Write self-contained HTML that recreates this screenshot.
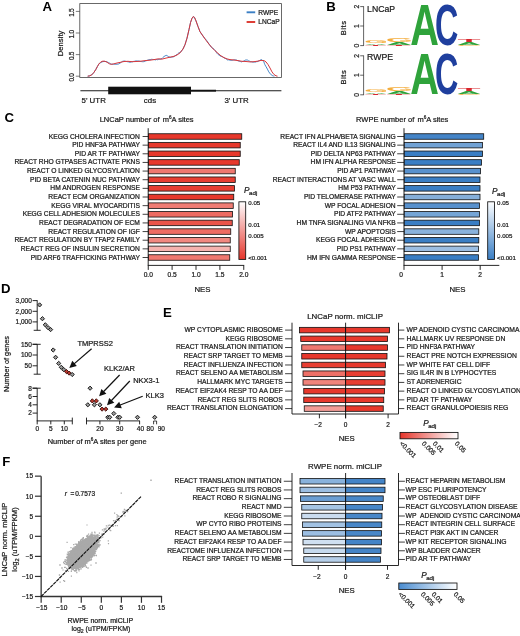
<!DOCTYPE html>
<html><head><meta charset="utf-8"><title>Figure</title>
<style>html,body{margin:0;padding:0;background:#fff}svg{display:block}svg text{font-family:"Liberation Sans",sans-serif;stroke:#1a1a1a;stroke-width:0.22px}svg text.ng{stroke:none}</style></head>
<body><svg width="520" height="636" viewBox="0 0 520 636">
<rect width="520" height="636" fill="#fff"/>
<defs>
<linearGradient id="gr" x1="0" y1="0" x2="0" y2="1"><stop offset="0" stop-color="#fff"/><stop offset="0.08" stop-color="#fdeeee"/><stop offset="1" stop-color="#e5352b"/></linearGradient>
<linearGradient id="gb" x1="0" y1="0" x2="0" y2="1"><stop offset="0" stop-color="#fff"/><stop offset="0.08" stop-color="#eef5fc"/><stop offset="1" stop-color="#3a7ec4"/></linearGradient>
<linearGradient id="grh" x1="1" y1="0" x2="0" y2="0"><stop offset="0" stop-color="#fff"/><stop offset="0.1" stop-color="#fdeeee"/><stop offset="1" stop-color="#e5352b"/></linearGradient>
<linearGradient id="gbh" x1="1" y1="0" x2="0" y2="0"><stop offset="0" stop-color="#fff"/><stop offset="0.1" stop-color="#eef5fc"/><stop offset="1" stop-color="#4a8cd0"/></linearGradient>
</defs>
<text x="42.5" y="11.2" font-size="13.2" font-weight="bold" fill="#000" class="ng">A</text>
<text x="326.2" y="11.0" font-size="13.2" font-weight="bold" fill="#000" class="ng">B</text>
<text x="4.5" y="122.3" font-size="13.2" font-weight="bold" fill="#000" class="ng">C</text>
<text x="0.9" y="293.0" font-size="13.2" font-weight="bold" fill="#000" class="ng">D</text>
<text x="163.1" y="316.6" font-size="13.2" font-weight="bold" fill="#000" class="ng">E</text>
<text x="2.2" y="466.3" font-size="13.2" font-weight="bold" fill="#000" class="ng">F</text>
<rect x="79.8" y="3.6" width="201.59999999999997" height="73.9" fill="none" stroke="#444" stroke-width="0.8"/>
<line x1="75.8" y1="76.2" x2="79.8" y2="76.2" stroke="#444" stroke-width="0.7"/>
<text x="74.1" y="77.5" font-size="6.5" text-anchor="middle" transform="rotate(-90 74.1 77.5)" fill="#1a1a1a" letter-spacing="-0.3">0.0</text>
<line x1="75.8" y1="54.6" x2="79.8" y2="54.6" stroke="#444" stroke-width="0.7"/>
<text x="74.1" y="55.9" font-size="6.5" text-anchor="middle" transform="rotate(-90 74.1 55.9)" fill="#1a1a1a" letter-spacing="-0.3">0.5</text>
<line x1="75.8" y1="33.0" x2="79.8" y2="33.0" stroke="#444" stroke-width="0.7"/>
<text x="74.1" y="34.3" font-size="6.5" text-anchor="middle" transform="rotate(-90 74.1 34.3)" fill="#1a1a1a" letter-spacing="-0.3">1.0</text>
<line x1="75.8" y1="11.399999999999991" x2="79.8" y2="11.399999999999991" stroke="#444" stroke-width="0.7"/>
<text x="74.1" y="12.699999999999992" font-size="6.5" text-anchor="middle" transform="rotate(-90 74.1 12.699999999999992)" fill="#1a1a1a" letter-spacing="-0.3">1.5</text>
<text x="63.4" y="43.4" font-size="7.65" text-anchor="middle" transform="rotate(-90 63.4 43.4)" fill="#1a1a1a">Density</text>
<polyline points="87.7,76.2 88.7,76.0 89.7,75.8 90.7,75.3 91.7,74.9 92.7,73.8 93.7,72.7 94.7,71.2 95.7,69.7 96.5,68.2 97.3,66.7 98.1,65.4 98.8,64.1 99.6,63.2 100.4,62.8 101.2,62.5 102.0,61.8 103.0,61.7 104.0,61.4 105.0,61.4 106.0,61.6 106.9,61.7 107.9,62.3 108.7,62.9 109.6,63.1 110.4,63.7 111.3,64.1 112.1,64.2 112.8,64.3 113.6,64.2 114.4,64.3 115.3,64.4 116.1,64.2 117.0,64.3 117.7,64.2 118.5,64.0 119.2,63.7 120.0,63.2 120.8,62.6 121.6,62.1 122.4,61.3 123.2,61.2 124.0,61.0 124.8,61.1 125.6,61.3 126.4,61.5 127.2,61.6 128.0,61.9 128.8,61.9 129.6,62.3 130.4,62.3 131.2,61.9 132.0,61.9 132.8,61.7 133.6,61.4 134.4,61.3 135.2,61.0 136.0,61.0 136.8,60.9 137.6,61.0 138.4,61.0 139.2,61.1 140.0,61.3 140.8,61.5 141.7,61.6 142.5,61.7 143.3,61.7 144.2,61.6 145.0,61.2 145.8,60.8 146.7,60.6 147.5,60.2 148.3,59.9 149.2,59.7 150.0,59.5 150.8,59.6 151.6,59.3 152.4,59.4 153.2,59.5 154.0,59.6 154.8,59.7 155.6,59.9 156.4,59.5 157.2,59.8 158.0,59.5 158.8,59.3 159.6,59.2 160.4,59.1 161.2,58.8 162.0,58.5 162.8,57.6 163.6,57.1 164.4,56.1 165.2,55.8 166.0,55.3 166.8,55.5 167.6,56.0 168.4,56.5 169.2,56.9 170.0,57.1 170.8,57.4 171.6,57.1 172.4,57.0 173.2,56.9 174.0,56.6 174.8,56.0 175.5,55.6 176.2,54.9 177.0,54.6 177.8,53.7 178.5,53.1 179.2,52.9 180.0,52.4 180.8,51.9 181.5,50.9 182.2,50.0 183.0,49.0 184.0,46.8 185.0,44.7 186.0,41.4 187.0,38.2 188.0,33.9 189.0,29.5 189.8,26.1 190.5,22.6 191.2,20.5 192.0,18.3 193.2,16.6 193.8,17.0 194.5,17.4 195.2,19.2 196.0,20.9 197.0,23.7 198.0,26.5 199.0,29.1 200.0,31.7 200.8,32.8 201.5,33.9 202.2,34.9 203.0,36.0 203.8,37.1 204.5,38.2 205.2,38.7 206.0,39.7 206.8,40.7 207.5,41.7 208.2,42.8 209.0,44.0 209.8,45.1 210.5,46.1 211.2,47.1 212.0,47.6 212.8,48.1 213.5,48.9 214.2,49.4 215.0,50.4 215.8,51.4 216.5,52.6 217.2,53.5 218.0,54.4 218.8,54.9 219.5,55.4 220.2,56.1 221.0,56.2 221.8,56.5 222.5,56.8 223.2,57.3 224.0,57.8 224.8,58.3 225.5,58.5 226.2,58.9 227.0,59.6 227.8,60.0 228.5,59.8 229.2,60.0 230.0,60.2 230.8,60.3 231.6,60.4 232.4,60.3 233.2,60.1 234.0,59.8 234.8,59.9 235.6,59.9 236.4,60.0 237.2,60.5 238.0,60.7 238.8,61.1 239.6,61.3 240.4,61.5 241.2,61.9 242.0,61.6 242.8,61.4 243.6,61.1 244.4,60.6 245.2,60.2 246.0,59.9 246.8,60.0 247.6,60.1 248.4,60.7 249.2,60.9 250.0,61.6 250.8,61.7 251.6,61.8 252.4,62.1 253.2,62.1 254.0,62.1 254.8,62.0 255.6,62.1 256.4,61.7 257.2,61.7 258.0,61.3 258.8,60.9 259.5,60.6 260.2,60.1 261.0,59.8 261.8,59.7 262.2,60.5 262.6,60.6 262.9,60.6 263.4,61.3 263.9,61.9 264.3,63.2 264.8,64.5 265.8,66.3 266.8,68.0 267.8,69.9 268.8,71.9 269.8,73.2 270.8,74.5 271.8,75.1 272.8,75.8 273.6,76.0 274.3,76.2" fill="none" stroke="#3b7fc4" stroke-width="0.95" stroke-linejoin="round"/>
<polyline points="87.7,76.2 89.7,75.8 91.7,74.9 93.7,72.7 95.7,69.7 97.3,66.7 98.8,64.1 100.4,62.4 102.0,61.3 104.0,61.1 106.0,61.7 107.9,62.8 109.6,63.9 111.3,64.3 113.6,63.9 117.0,63.0 120.0,62.4 124.0,61.5 128.0,61.3 132.0,61.7 136.0,61.5 140.0,61.3 145.0,60.6 150.0,60.2 154.0,59.6 158.0,58.9 162.0,59.1 166.0,58.1 170.0,57.2 174.0,56.3 177.0,55.0 180.0,52.9 183.0,49.0 185.0,44.7 187.0,38.2 189.0,29.5 190.5,22.6 192.0,18.3 193.2,16.6 194.5,17.4 196.0,20.9 198.0,26.5 200.0,31.7 203.0,36.0 206.0,40.3 209.0,44.2 212.0,47.7 215.0,50.7 218.0,53.3 221.0,55.9 224.0,57.6 227.0,58.9 230.0,59.6 234.0,60.0 238.0,60.6 242.0,61.3 246.0,61.5 250.0,61.9 254.0,61.7 258.0,61.1 261.0,60.4 264.0,60.6 266.0,61.9 268.0,64.5 270.0,68.0 272.0,71.9 274.0,74.5 276.0,75.8 277.5,76.2" fill="none" stroke="#d8363a" stroke-width="1.0" stroke-linejoin="round"/>
<line x1="246.6" y1="12.3" x2="255.2" y2="12.3" stroke="#3b7fc4" stroke-width="1.9"/>
<text x="258.3" y="14.7" font-size="6.65" fill="#1a1a1a">RWPE</text>
<line x1="246.6" y1="22" x2="255.2" y2="22" stroke="#dc352d" stroke-width="1.9"/>
<text x="258.3" y="24.4" font-size="6.65" fill="#1a1a1a">LNCaP</text>
<line x1="80.4" y1="90.7" x2="281.4" y2="90.7" stroke="#1a1a1a" stroke-width="1.15"/>
<line x1="191" y1="90.7" x2="216" y2="90.7" stroke="#111" stroke-width="1.9"/>
<rect x="108.20" y="86.70" width="82.80" height="7.60" fill="#111"/>
<text x="93.7" y="102.5" font-size="7.9" text-anchor="middle" fill="#1a1a1a">5' UTR</text>
<text x="150" y="102.6" font-size="7.9" text-anchor="middle" fill="#1a1a1a">cds</text>
<text x="236.6" y="102.6" font-size="7.9" text-anchor="middle" fill="#1a1a1a">3' UTR</text>
<g id="B">
<line x1="363.6" y1="6.25" x2="363.6" y2="45.95" stroke="#222" stroke-width="0.7"/>
<line x1="360.20000000000005" y1="6.6" x2="363.6" y2="6.6" stroke="#222" stroke-width="0.7"/>
<text x="358.6" y="6.6" font-size="6.8" text-anchor="middle" transform="rotate(-90 358.6 6.6)" fill="#1a1a1a">2</text>
<line x1="360.20000000000005" y1="26" x2="363.6" y2="26" stroke="#222" stroke-width="0.7"/>
<text x="358.6" y="26" font-size="6.8" text-anchor="middle" transform="rotate(-90 358.6 26)" fill="#1a1a1a">1</text>
<line x1="360.20000000000005" y1="45.6" x2="363.6" y2="45.6" stroke="#222" stroke-width="0.7"/>
<text x="358.6" y="45.6" font-size="6.8" text-anchor="middle" transform="rotate(-90 358.6 45.6)" fill="#1a1a1a">0</text>
<text x="346.2" y="27.9" font-size="7.5" text-anchor="middle" transform="rotate(-90 346.2 27.9)" fill="#1a1a1a" letter-spacing="0.55">Bits</text>
<text x="367.1" y="11.8" font-size="8.7" fill="#1a1a1a">LNCaP</text>
<text transform="translate(410.31 45.26) scale(0.3970 0.5793)" x="0" y="0" font-size="100" font-weight="bold" fill="#2fa33b" class="ng">A</text>
<text transform="translate(434.98 45.08) scale(0.3231 0.5743)" x="0" y="0" font-size="100" font-weight="bold" fill="#1f3f9e" class="ng">C</text>
<text transform="translate(364.25 42.87) scale(0.3042 0.0311)" x="0" y="0" font-size="100" font-weight="bold" fill="#f4ad3d" class="ng">G</text>
<text transform="translate(364.74 44.60) scale(0.3060 0.0247)" x="0" y="0" font-size="100" font-weight="bold" fill="#2fa33b" class="ng">A</text>
<text transform="translate(365.12 45.60) scale(0.3486 0.0146)" x="0" y="0" font-size="100" font-weight="bold" fill="#d8262c" class="ng">T</text>
<text transform="translate(385.87 41.95) scale(0.3487 0.0537)" x="0" y="0" font-size="100" font-weight="bold" fill="#f4ad3d" class="ng">G</text>
<text transform="translate(386.42 44.80) scale(0.3507 0.0408)" x="0" y="0" font-size="100" font-weight="bold" fill="#2fa33b" class="ng">A</text>
<text transform="translate(386.86 45.60) scale(0.3997 0.0116)" x="0" y="0" font-size="100" font-weight="bold" fill="#d8262c" class="ng">T</text>
<text transform="translate(457.38 42.10) scale(0.3776 0.0422)" x="0" y="0" font-size="100" font-weight="bold" fill="#d8262c" class="ng">T</text>
<text transform="translate(456.97 44.70) scale(0.3313 0.0378)" x="0" y="0" font-size="100" font-weight="bold" fill="#2fa33b" class="ng">A</text>
<text transform="translate(456.45 45.59) scale(0.3294 0.0127)" x="0" y="0" font-size="100" font-weight="bold" fill="#f4ad3d" class="ng">G</text>
<line x1="363.6" y1="55.449999999999996" x2="363.6" y2="95.14999999999999" stroke="#222" stroke-width="0.7"/>
<line x1="360.20000000000005" y1="55.8" x2="363.6" y2="55.8" stroke="#222" stroke-width="0.7"/>
<text x="358.6" y="55.8" font-size="6.8" text-anchor="middle" transform="rotate(-90 358.6 55.8)" fill="#1a1a1a">2</text>
<line x1="360.20000000000005" y1="75.2" x2="363.6" y2="75.2" stroke="#222" stroke-width="0.7"/>
<text x="358.6" y="75.2" font-size="6.8" text-anchor="middle" transform="rotate(-90 358.6 75.2)" fill="#1a1a1a">1</text>
<line x1="360.20000000000005" y1="94.8" x2="363.6" y2="94.8" stroke="#222" stroke-width="0.7"/>
<text x="358.6" y="94.8" font-size="6.8" text-anchor="middle" transform="rotate(-90 358.6 94.8)" fill="#1a1a1a">0</text>
<text x="346.2" y="77.10000000000001" font-size="7.5" text-anchor="middle" transform="rotate(-90 346.2 77.10000000000001)" fill="#1a1a1a" letter-spacing="0.55">Bits</text>
<text x="367.1" y="60.1" font-size="8.7" fill="#1a1a1a">RWPE</text>
<text transform="translate(410.31 94.46) scale(0.3970 0.5793)" x="0" y="0" font-size="100" font-weight="bold" fill="#2fa33b" class="ng">A</text>
<text transform="translate(434.98 94.28) scale(0.3231 0.5743)" x="0" y="0" font-size="100" font-weight="bold" fill="#1f3f9e" class="ng">C</text>
<text transform="translate(364.25 92.07) scale(0.3042 0.0311)" x="0" y="0" font-size="100" font-weight="bold" fill="#f4ad3d" class="ng">G</text>
<text transform="translate(364.74 93.80) scale(0.3060 0.0247)" x="0" y="0" font-size="100" font-weight="bold" fill="#2fa33b" class="ng">A</text>
<text transform="translate(365.12 94.80) scale(0.3486 0.0146)" x="0" y="0" font-size="100" font-weight="bold" fill="#d8262c" class="ng">T</text>
<text transform="translate(385.87 91.15) scale(0.3487 0.0537)" x="0" y="0" font-size="100" font-weight="bold" fill="#f4ad3d" class="ng">G</text>
<text transform="translate(386.42 94.00) scale(0.3507 0.0408)" x="0" y="0" font-size="100" font-weight="bold" fill="#2fa33b" class="ng">A</text>
<text transform="translate(386.86 94.80) scale(0.3997 0.0116)" x="0" y="0" font-size="100" font-weight="bold" fill="#d8262c" class="ng">T</text>
<text transform="translate(457.38 91.30) scale(0.3776 0.0422)" x="0" y="0" font-size="100" font-weight="bold" fill="#d8262c" class="ng">T</text>
<text transform="translate(456.97 93.90) scale(0.3313 0.0378)" x="0" y="0" font-size="100" font-weight="bold" fill="#2fa33b" class="ng">A</text>
<text transform="translate(456.45 94.79) scale(0.3294 0.0127)" x="0" y="0" font-size="100" font-weight="bold" fill="#f4ad3d" class="ng">G</text>
</g>
<text x="146.6" y="122.0" font-size="7.5" text-anchor="middle" fill="#1a1a1a">LNCaP number of<tspan dx="3.1">m</tspan><tspan font-size="4.65" dy="-2.6">6</tspan><tspan dy="2.6">A sites</tspan></text>
<line x1="148.2" y1="128.2" x2="148.2" y2="265.4" stroke="#111" stroke-width="0.9"/>
<line x1="142.6" y1="136.5" x2="148.2" y2="136.5" stroke="#111" stroke-width="0.8"/>
<text x="139.89999999999998" y="138.55" font-size="6.7" text-anchor="end" fill="#1a1a1a">KEGG CHOLERA INFECTION</text>
<rect x="148.50" y="133.75" width="93.25" height="5.50" fill="#e7382c" stroke="#111" stroke-width="0.8"/>
<line x1="142.6" y1="145.143" x2="148.2" y2="145.143" stroke="#111" stroke-width="0.8"/>
<text x="139.89999999999998" y="147.193" font-size="6.7" text-anchor="end" fill="#1a1a1a">PID HNF3A PATHWAY</text>
<rect x="148.50" y="142.39" width="91.75" height="5.50" fill="#e7382c" stroke="#111" stroke-width="0.8"/>
<line x1="142.6" y1="153.786" x2="148.2" y2="153.786" stroke="#111" stroke-width="0.8"/>
<text x="139.89999999999998" y="155.836" font-size="6.7" text-anchor="end" fill="#1a1a1a">PID AR TF PATHWAY</text>
<rect x="148.50" y="151.04" width="91.75" height="5.50" fill="#e7382c" stroke="#111" stroke-width="0.8"/>
<line x1="142.6" y1="162.429" x2="148.2" y2="162.429" stroke="#111" stroke-width="0.8"/>
<text x="139.89999999999998" y="164.479" font-size="6.7" text-anchor="end" fill="#1a1a1a">REACT RHO GTPASES ACTIVATE PKNS</text>
<rect x="148.50" y="159.68" width="90.75" height="5.50" fill="#e7382c" stroke="#111" stroke-width="0.8"/>
<line x1="142.6" y1="171.072" x2="148.2" y2="171.072" stroke="#111" stroke-width="0.8"/>
<text x="139.89999999999998" y="173.122" font-size="6.7" text-anchor="end" fill="#1a1a1a">REACT O LINKED GLYCOSYLATION</text>
<rect x="148.50" y="168.32" width="86.75" height="5.50" fill="#ef7870" stroke="#111" stroke-width="0.8"/>
<line x1="142.6" y1="179.715" x2="148.2" y2="179.715" stroke="#111" stroke-width="0.8"/>
<text x="139.89999999999998" y="181.76500000000001" font-size="6.7" text-anchor="end" fill="#1a1a1a">PID BETA CATENIN NUC PATHWAY</text>
<rect x="148.50" y="176.97" width="86.75" height="5.50" fill="#e83e32" stroke="#111" stroke-width="0.8"/>
<line x1="142.6" y1="188.358" x2="148.2" y2="188.358" stroke="#111" stroke-width="0.8"/>
<text x="139.89999999999998" y="190.40800000000002" font-size="6.7" text-anchor="end" fill="#1a1a1a">HM ANDROGEN RESPONSE</text>
<rect x="148.50" y="185.61" width="86.00" height="5.50" fill="#e83e32" stroke="#111" stroke-width="0.8"/>
<line x1="142.6" y1="197.001" x2="148.2" y2="197.001" stroke="#111" stroke-width="0.8"/>
<text x="139.89999999999998" y="199.05100000000002" font-size="6.7" text-anchor="end" fill="#1a1a1a">REACT ECM ORGANIZATION</text>
<rect x="148.50" y="194.25" width="85.25" height="5.50" fill="#e7382c" stroke="#111" stroke-width="0.8"/>
<line x1="142.6" y1="205.644" x2="148.2" y2="205.644" stroke="#111" stroke-width="0.8"/>
<text x="139.89999999999998" y="207.69400000000002" font-size="6.7" text-anchor="end" fill="#1a1a1a">KEGG VIRAL MYOCARDITIS</text>
<rect x="148.50" y="202.89" width="84.75" height="5.50" fill="#ef7c74" stroke="#111" stroke-width="0.8"/>
<line x1="142.6" y1="214.287" x2="148.2" y2="214.287" stroke="#111" stroke-width="0.8"/>
<text x="139.89999999999998" y="216.33700000000002" font-size="6.7" text-anchor="end" fill="#1a1a1a">KEGG CELL ADHESION MOLECULES</text>
<rect x="148.50" y="211.54" width="84.00" height="5.50" fill="#ed6c63" stroke="#111" stroke-width="0.8"/>
<line x1="142.6" y1="222.93" x2="148.2" y2="222.93" stroke="#111" stroke-width="0.8"/>
<text x="139.89999999999998" y="224.98000000000002" font-size="6.7" text-anchor="end" fill="#1a1a1a">REACT DEGRADATION OF ECM</text>
<rect x="148.50" y="220.18" width="83.75" height="5.50" fill="#ea544a" stroke="#111" stroke-width="0.8"/>
<line x1="142.6" y1="231.573" x2="148.2" y2="231.573" stroke="#111" stroke-width="0.8"/>
<text x="139.89999999999998" y="233.62300000000002" font-size="6.7" text-anchor="end" fill="#1a1a1a">REACT REGULATION OF IGF</text>
<rect x="148.50" y="228.82" width="82.25" height="5.50" fill="#ed6c63" stroke="#111" stroke-width="0.8"/>
<line x1="142.6" y1="240.216" x2="148.2" y2="240.216" stroke="#111" stroke-width="0.8"/>
<text x="139.89999999999998" y="242.26600000000002" font-size="6.7" text-anchor="end" fill="#1a1a1a">REACT REGULATION BY TFAP2 FAMILY</text>
<rect x="148.50" y="237.47" width="81.75" height="5.50" fill="#f18880" stroke="#111" stroke-width="0.8"/>
<line x1="142.6" y1="248.859" x2="148.2" y2="248.859" stroke="#111" stroke-width="0.8"/>
<text x="139.89999999999998" y="250.90900000000002" font-size="6.7" text-anchor="end" fill="#1a1a1a">REACT REG OF INSULIN SECRETION</text>
<rect x="148.50" y="246.11" width="81.75" height="5.50" fill="#f6b3af" stroke="#111" stroke-width="0.8"/>
<line x1="142.6" y1="257.502" x2="148.2" y2="257.502" stroke="#111" stroke-width="0.8"/>
<text x="139.89999999999998" y="259.552" font-size="6.7" text-anchor="end" fill="#1a1a1a">PID ARF6 TRAFFICKING PATHWAY</text>
<rect x="148.50" y="254.75" width="81.25" height="5.50" fill="#ef7870" stroke="#111" stroke-width="0.8"/>
<line x1="147.75" y1="265.4" x2="244.2" y2="265.4" stroke="#111" stroke-width="0.9"/>
<line x1="148.25" y1="265.4" x2="148.25" y2="269.9" stroke="#111" stroke-width="0.9"/>
<text x="148.25" y="277.4" font-size="6.65" text-anchor="middle" fill="#1a1a1a">0.0</text>
<line x1="172.1" y1="265.4" x2="172.1" y2="269.9" stroke="#111" stroke-width="0.9"/>
<text x="172.1" y="277.4" font-size="6.65" text-anchor="middle" fill="#1a1a1a">0.5</text>
<line x1="196" y1="265.4" x2="196" y2="269.9" stroke="#111" stroke-width="0.9"/>
<text x="196" y="277.4" font-size="6.65" text-anchor="middle" fill="#1a1a1a">1.0</text>
<line x1="219.9" y1="265.4" x2="219.9" y2="269.9" stroke="#111" stroke-width="0.9"/>
<text x="219.9" y="277.4" font-size="6.65" text-anchor="middle" fill="#1a1a1a">1.5</text>
<line x1="243.75" y1="265.4" x2="243.75" y2="269.9" stroke="#111" stroke-width="0.9"/>
<text x="243.75" y="277.4" font-size="6.65" text-anchor="middle" fill="#1a1a1a">2.0</text>
<text x="202.5" y="291.5" font-size="7.8" text-anchor="middle" fill="#1a1a1a">NES</text>
<rect x="238.9" y="201.8" width="6.8" height="57.6" fill="url(#gr)" stroke="#111" stroke-width="0.85"/>
<text x="248.3" y="205.0" font-size="6.1" fill="#1a1a1a">0.05</text>
<text x="248.3" y="227.39999999999998" font-size="6.1" fill="#1a1a1a">0.01</text>
<text x="248.3" y="238.2" font-size="6.1" fill="#1a1a1a">0.005</text>
<text x="248.3" y="260.2" font-size="6.1" fill="#1a1a1a">&lt;0.001</text>
<text x="244.1" y="193.2" font-size="8.2" fill="#1a1a1a"><tspan font-style="italic">P</tspan><tspan font-size="6.2" dy="1.9" dx="-0.5">adj</tspan></text>
<text x="402.2" y="122.0" font-size="7.5" text-anchor="middle" fill="#1a1a1a">RWPE number of<tspan dx="3.1">m</tspan><tspan font-size="4.65" dy="-2.6">6</tspan><tspan dy="2.6">A sites</tspan></text>
<line x1="404" y1="128.2" x2="404" y2="265.4" stroke="#111" stroke-width="0.9"/>
<line x1="397.2" y1="136.5" x2="404" y2="136.5" stroke="#111" stroke-width="0.8"/>
<text x="395.7" y="138.55" font-size="6.7" text-anchor="end" fill="#1a1a1a">REACT IFN ALPHA/BETA SIGNALING</text>
<rect x="404.30" y="133.75" width="79.40" height="5.50" fill="#4484c7" stroke="#111" stroke-width="0.8"/>
<line x1="397.2" y1="145.143" x2="404" y2="145.143" stroke="#111" stroke-width="0.8"/>
<text x="395.7" y="147.193" font-size="6.7" text-anchor="end" fill="#1a1a1a">REACT IL4 AND IL13 SIGNALING</text>
<rect x="404.30" y="142.39" width="78.20" height="5.50" fill="#71a2d5" stroke="#111" stroke-width="0.8"/>
<line x1="397.2" y1="153.786" x2="404" y2="153.786" stroke="#111" stroke-width="0.8"/>
<text x="395.7" y="155.836" font-size="6.7" text-anchor="end" fill="#1a1a1a">PID DELTA NP63 PATHWAY</text>
<rect x="404.30" y="151.04" width="78.20" height="5.50" fill="#3a7ec4" stroke="#111" stroke-width="0.8"/>
<line x1="397.2" y1="162.429" x2="404" y2="162.429" stroke="#111" stroke-width="0.8"/>
<text x="395.7" y="164.479" font-size="6.7" text-anchor="end" fill="#1a1a1a">HM IFN ALPHA RESPONSE</text>
<rect x="404.30" y="159.68" width="77.20" height="5.50" fill="#3a7ec4" stroke="#111" stroke-width="0.8"/>
<line x1="397.2" y1="171.072" x2="404" y2="171.072" stroke="#111" stroke-width="0.8"/>
<text x="395.7" y="173.122" font-size="6.7" text-anchor="end" fill="#1a1a1a">PID AP1 PATHWAY</text>
<rect x="404.30" y="168.32" width="76.30" height="5.50" fill="#5891cd" stroke="#111" stroke-width="0.8"/>
<line x1="397.2" y1="179.715" x2="404" y2="179.715" stroke="#111" stroke-width="0.8"/>
<text x="395.7" y="181.76500000000001" font-size="6.7" text-anchor="end" fill="#1a1a1a">REACT INTERACTIONS AT VASC WALL</text>
<rect x="404.30" y="176.97" width="75.70" height="5.50" fill="#3a7ec4" stroke="#111" stroke-width="0.8"/>
<line x1="397.2" y1="188.358" x2="404" y2="188.358" stroke="#111" stroke-width="0.8"/>
<text x="395.7" y="190.40800000000002" font-size="6.7" text-anchor="end" fill="#1a1a1a">HM P53 PATHWAY</text>
<rect x="404.30" y="185.61" width="75.70" height="5.50" fill="#3a7ec4" stroke="#111" stroke-width="0.8"/>
<line x1="397.2" y1="197.001" x2="404" y2="197.001" stroke="#111" stroke-width="0.8"/>
<text x="395.7" y="199.05100000000002" font-size="6.7" text-anchor="end" fill="#1a1a1a">PID TELOMERASE PATHWAY</text>
<rect x="404.30" y="194.25" width="75.70" height="5.50" fill="#85afda" stroke="#111" stroke-width="0.8"/>
<line x1="397.2" y1="205.644" x2="404" y2="205.644" stroke="#111" stroke-width="0.8"/>
<text x="395.7" y="207.69400000000002" font-size="6.7" text-anchor="end" fill="#1a1a1a">WP FOCAL ADHESION</text>
<rect x="404.30" y="202.89" width="75.10" height="5.50" fill="#5891cd" stroke="#111" stroke-width="0.8"/>
<line x1="397.2" y1="214.287" x2="404" y2="214.287" stroke="#111" stroke-width="0.8"/>
<text x="395.7" y="216.33700000000002" font-size="6.7" text-anchor="end" fill="#1a1a1a">PID ATF2 PATHWAY</text>
<rect x="404.30" y="211.54" width="75.10" height="5.50" fill="#75a5d6" stroke="#111" stroke-width="0.8"/>
<line x1="397.2" y1="222.93" x2="404" y2="222.93" stroke="#111" stroke-width="0.8"/>
<text x="395.7" y="224.98000000000002" font-size="6.7" text-anchor="end" fill="#1a1a1a">HM TNFA SIGNALING VIA NFKB</text>
<rect x="404.30" y="220.18" width="75.10" height="5.50" fill="#3a7ec4" stroke="#111" stroke-width="0.8"/>
<line x1="397.2" y1="231.573" x2="404" y2="231.573" stroke="#111" stroke-width="0.8"/>
<text x="395.7" y="233.62300000000002" font-size="6.7" text-anchor="end" fill="#1a1a1a">WP APOPTOSIS</text>
<rect x="404.30" y="228.82" width="74.50" height="5.50" fill="#89b2dc" stroke="#111" stroke-width="0.8"/>
<line x1="397.2" y1="240.216" x2="404" y2="240.216" stroke="#111" stroke-width="0.8"/>
<text x="395.7" y="242.26600000000002" font-size="6.7" text-anchor="end" fill="#1a1a1a">KEGG FOCAL ADHESION</text>
<rect x="404.30" y="237.47" width="74.50" height="5.50" fill="#3a7ec4" stroke="#111" stroke-width="0.8"/>
<line x1="397.2" y1="248.859" x2="404" y2="248.859" stroke="#111" stroke-width="0.8"/>
<text x="395.7" y="250.90900000000002" font-size="6.7" text-anchor="end" fill="#1a1a1a">PID PS1 PATHWAY</text>
<rect x="404.30" y="246.11" width="74.20" height="5.50" fill="#9cbee2" stroke="#111" stroke-width="0.8"/>
<line x1="397.2" y1="257.502" x2="404" y2="257.502" stroke="#111" stroke-width="0.8"/>
<text x="395.7" y="259.552" font-size="6.7" text-anchor="end" fill="#1a1a1a">HM IFN GAMMA RESPONSE</text>
<rect x="404.30" y="254.75" width="74.20" height="5.50" fill="#3a7ec4" stroke="#111" stroke-width="0.8"/>
<line x1="403.55" y1="265.4" x2="499.3" y2="265.4" stroke="#111" stroke-width="0.9"/>
<line x1="404" y1="265.4" x2="404" y2="269.9" stroke="#111" stroke-width="0.9"/>
<text x="401" y="277.4" font-size="6.65" text-anchor="middle" fill="#1a1a1a">0</text>
<line x1="442.1" y1="265.4" x2="442.1" y2="269.9" stroke="#111" stroke-width="0.9"/>
<text x="442.1" y="277.4" font-size="6.65" text-anchor="middle" fill="#1a1a1a">1</text>
<line x1="480.2" y1="265.4" x2="480.2" y2="269.9" stroke="#111" stroke-width="0.9"/>
<text x="480.2" y="277.4" font-size="6.65" text-anchor="middle" fill="#1a1a1a">2</text>
<text x="457.5" y="291.5" font-size="7.8" text-anchor="middle" fill="#1a1a1a">NES</text>
<rect x="487.7" y="201.8" width="6.8" height="57.6" fill="url(#gb)" stroke="#111" stroke-width="0.85"/>
<text x="497.09999999999997" y="205.0" font-size="6.1" fill="#1a1a1a">0.05</text>
<text x="497.09999999999997" y="227.39999999999998" font-size="6.1" fill="#1a1a1a">0.01</text>
<text x="497.09999999999997" y="238.2" font-size="6.1" fill="#1a1a1a">0.005</text>
<text x="497.09999999999997" y="260.2" font-size="6.1" fill="#1a1a1a">&lt;0.001</text>
<text x="492.0" y="194.1" font-size="8.2" fill="#1a1a1a"><tspan font-style="italic">P</tspan><tspan font-size="6.2" dy="1.9" dx="-0.5">adj</tspan></text>
<line x1="37.2" y1="300.2" x2="37.2" y2="330.3" stroke="#111" stroke-width="0.9"/>
<line x1="32.6" y1="300.6" x2="37.2" y2="300.6" stroke="#111" stroke-width="0.9"/>
<text x="31.800000000000004" y="302.90000000000003" font-size="6.5" text-anchor="end" fill="#1a1a1a">3,000</text>
<line x1="32.6" y1="311.3" x2="37.2" y2="311.3" stroke="#111" stroke-width="0.9"/>
<text x="31.800000000000004" y="313.6" font-size="6.5" text-anchor="end" fill="#1a1a1a">2,000</text>
<line x1="32.6" y1="321.9" x2="37.2" y2="321.9" stroke="#111" stroke-width="0.9"/>
<text x="31.800000000000004" y="324.2" font-size="6.5" text-anchor="end" fill="#1a1a1a">1,000</text>
<line x1="33.7" y1="330.3" x2="40.7" y2="330.3" stroke="#111" stroke-width="0.9"/>
<line x1="37.2" y1="344.3" x2="37.2" y2="374.2" stroke="#111" stroke-width="0.9"/>
<line x1="32.6" y1="344.3" x2="37.2" y2="344.3" stroke="#111" stroke-width="0.9"/>
<text x="31.800000000000004" y="346.6" font-size="6.5" text-anchor="end" fill="#1a1a1a">150</text>
<line x1="32.6" y1="355" x2="37.2" y2="355" stroke="#111" stroke-width="0.9"/>
<text x="31.800000000000004" y="357.3" font-size="6.5" text-anchor="end" fill="#1a1a1a">100</text>
<line x1="32.6" y1="365.8" x2="37.2" y2="365.8" stroke="#111" stroke-width="0.9"/>
<text x="31.800000000000004" y="368.1" font-size="6.5" text-anchor="end" fill="#1a1a1a">50</text>
<line x1="32.6" y1="344.3" x2="40.7" y2="344.3" stroke="#111" stroke-width="0.9"/>
<line x1="33.7" y1="374.2" x2="40.7" y2="374.2" stroke="#111" stroke-width="0.9"/>
<line x1="37.2" y1="388.2" x2="37.2" y2="421" stroke="#111" stroke-width="0.9"/>
<line x1="32.6" y1="388.2" x2="37.2" y2="388.2" stroke="#111" stroke-width="0.9"/>
<text x="31.800000000000004" y="390.5" font-size="6.5" text-anchor="end" fill="#1a1a1a">8</text>
<line x1="32.6" y1="396.5" x2="37.2" y2="396.5" stroke="#111" stroke-width="0.9"/>
<text x="31.800000000000004" y="398.8" font-size="6.5" text-anchor="end" fill="#1a1a1a">6</text>
<line x1="32.6" y1="404.8" x2="37.2" y2="404.8" stroke="#111" stroke-width="0.9"/>
<text x="31.800000000000004" y="407.1" font-size="6.5" text-anchor="end" fill="#1a1a1a">4</text>
<line x1="32.6" y1="413.1" x2="37.2" y2="413.1" stroke="#111" stroke-width="0.9"/>
<text x="31.800000000000004" y="415.40000000000003" font-size="6.5" text-anchor="end" fill="#1a1a1a">2</text>
<line x1="32.6" y1="388.2" x2="40.7" y2="388.2" stroke="#111" stroke-width="0.9"/>
<line x1="36.75" y1="420.9" x2="72.3" y2="420.9" stroke="#111" stroke-width="0.9"/>
<line x1="37.2" y1="420.9" x2="37.2" y2="424.4" stroke="#111" stroke-width="0.9"/>
<text x="37.2" y="431.2" font-size="6.5" text-anchor="middle" fill="#1a1a1a">0</text>
<line x1="50.8" y1="420.9" x2="50.8" y2="424.4" stroke="#111" stroke-width="0.9"/>
<text x="50.8" y="431.2" font-size="6.5" text-anchor="middle" fill="#1a1a1a">5</text>
<line x1="64.3" y1="420.9" x2="64.3" y2="424.4" stroke="#111" stroke-width="0.9"/>
<text x="64.3" y="431.2" font-size="6.5" text-anchor="middle" fill="#1a1a1a">10</text>
<line x1="72.3" y1="417.6" x2="72.3" y2="424.4" stroke="#111" stroke-width="0.9"/>
<line x1="86.5" y1="420.9" x2="139.9" y2="420.9" stroke="#111" stroke-width="0.9"/>
<line x1="86.5" y1="417.6" x2="86.5" y2="424.4" stroke="#111" stroke-width="0.9"/>
<line x1="99.9" y1="420.9" x2="99.9" y2="424.4" stroke="#111" stroke-width="0.9"/>
<line x1="119.7" y1="420.9" x2="119.7" y2="424.4" stroke="#111" stroke-width="0.9"/>
<line x1="139.6" y1="420.9" x2="139.6" y2="424.4" stroke="#111" stroke-width="0.9"/>
<text x="99.9" y="431.2" font-size="6.5" text-anchor="middle" fill="#1a1a1a">20</text>
<text x="119.7" y="431.2" font-size="6.5" text-anchor="middle" fill="#1a1a1a">30</text>
<text x="140.4" y="431.2" font-size="6.5" text-anchor="middle" fill="#1a1a1a">40</text>
<text x="150.2" y="431.2" font-size="6.5" text-anchor="middle" fill="#1a1a1a">80</text>
<text x="161.3" y="431.2" font-size="6.5" text-anchor="middle" fill="#1a1a1a">90</text>
<path d="M153.6 424.3V421H156.6V424.3" fill="none" stroke="#111" stroke-width="0.8"/>
<text x="97.2" y="444" font-size="7.45" text-anchor="middle" fill="#1a1a1a">Number of m<tspan font-size="4.6" dy="-2.6">6</tspan><tspan dy="2.6">A sites per gene</tspan></text>
<text x="8.8" y="364.0" font-size="7.3" text-anchor="middle" transform="rotate(-90 8.8 364.0)" fill="#1a1a1a">Number of genes</text>
<path d="M39.6 302.8L41.7 304.9L39.6 307.0L37.5 304.9Z" fill="#9c9c9c" stroke="#151515" stroke-width="0.98"/>
<path d="M42.4 316.6L44.5 318.7L42.4 320.8L40.3 318.7Z" fill="#9c9c9c" stroke="#151515" stroke-width="0.98"/>
<path d="M45.3 322.7L47.4 324.8L45.3 326.9L43.2 324.8Z" fill="#9c9c9c" stroke="#151515" stroke-width="0.98"/>
<path d="M48.1 325.6L50.2 327.7L48.1 329.8L46.0 327.7Z" fill="#9c9c9c" stroke="#151515" stroke-width="0.98"/>
<path d="M50.6 327.5L52.7 329.6L50.6 331.7L48.5 329.6Z" fill="#9c9c9c" stroke="#151515" stroke-width="0.98"/>
<path d="M53.2 347.9L55.3 350.0L53.2 352.1L51.1 350.0Z" fill="#9c9c9c" stroke="#151515" stroke-width="0.98"/>
<path d="M55.6 355.2L57.7 357.3L55.6 359.4L53.5 357.3Z" fill="#9c9c9c" stroke="#151515" stroke-width="0.98"/>
<path d="M58.7 361.3L60.8 363.4L58.7 365.5L56.6 363.4Z" fill="#9c9c9c" stroke="#151515" stroke-width="0.98"/>
<path d="M61.3 365.2L63.4 367.3L61.3 369.4L59.2 367.3Z" fill="#9c9c9c" stroke="#151515" stroke-width="0.98"/>
<path d="M63.8 367.5L65.9 369.6L63.8 371.7L61.7 369.6Z" fill="#9c9c9c" stroke="#151515" stroke-width="0.98"/>
<path d="M66.5 369.5L68.6 371.6L66.5 373.7L64.4 371.6Z" fill="#b8382e" stroke="#45120e" stroke-width="0.98"/>
<path d="M69.1 371.0L71.2 373.1L69.1 375.2L67.0 373.1Z" fill="#b8382e" stroke="#45120e" stroke-width="0.98"/>
<path d="M72.2 372.4L74.3 374.5L72.2 376.6L70.1 374.5Z" fill="#9c9c9c" stroke="#151515" stroke-width="0.98"/>
<path d="M90.1 386.1L92.2 388.2L90.1 390.3L88.0 388.2Z" fill="#9c9c9c" stroke="#151515" stroke-width="0.98"/>
<path d="M87.8 402.7L89.9 404.8L87.8 406.9L85.7 404.8Z" fill="#9c9c9c" stroke="#151515" stroke-width="0.98"/>
<path d="M92.3 398.8L94.4 400.9L92.3 403.0L90.2 400.9Z" fill="#b8382e" stroke="#45120e" stroke-width="0.98"/>
<path d="M94.4 402.7L96.5 404.8L94.4 406.9L92.3 404.8Z" fill="#9c9c9c" stroke="#151515" stroke-width="0.98"/>
<path d="M96.3 398.8L98.4 400.9L96.3 403.0L94.2 400.9Z" fill="#b8382e" stroke="#45120e" stroke-width="0.98"/>
<path d="M99.9 402.7L102.0 404.8L99.9 406.9L97.8 404.8Z" fill="#9c9c9c" stroke="#151515" stroke-width="0.98"/>
<path d="M102.1 407.0L104.2 409.1L102.1 411.2L100.0 409.1Z" fill="#b8382e" stroke="#45120e" stroke-width="0.98"/>
<path d="M105.8 407.0L107.9 409.1L105.8 411.2L103.7 409.1Z" fill="#b8382e" stroke="#45120e" stroke-width="0.98"/>
<path d="M113.8 411.4L115.9 413.5L113.8 415.6L111.7 413.5Z" fill="#9c9c9c" stroke="#151515" stroke-width="0.98"/>
<path d="M107.8 415.2L109.9 417.3L107.8 419.4L105.7 417.3Z" fill="#9c9c9c" stroke="#151515" stroke-width="0.98"/>
<path d="M109.7 415.2L111.8 417.3L109.7 419.4L107.6 417.3Z" fill="#9c9c9c" stroke="#151515" stroke-width="0.98"/>
<path d="M117.9 415.2L120.0 417.3L117.9 419.4L115.8 417.3Z" fill="#9c9c9c" stroke="#151515" stroke-width="0.98"/>
<path d="M119.7 415.2L121.8 417.3L119.7 419.4L117.6 417.3Z" fill="#9c9c9c" stroke="#151515" stroke-width="0.98"/>
<path d="M137.5 415.2L139.6 417.3L137.5 419.4L135.4 417.3Z" fill="#9c9c9c" stroke="#151515" stroke-width="0.98"/>
<path d="M154.7 415.2L156.8 417.3L154.7 419.4L152.6 417.3Z" fill="#9c9c9c" stroke="#151515" stroke-width="0.98"/>
<text x="77.5" y="345.5" font-size="7.5" fill="#1a1a1a">TMPRSS2</text>
<line x1="91.6" y1="348.8" x2="73.8" y2="364.1" stroke="#111" stroke-width="1.2"/>
<path d="M69.3 367.9L72.3 360.8L76.8 366.1Z" fill="#111"/>
<text x="104.1" y="370.9" font-size="7.5" fill="#1a1a1a">KLK2/AR</text>
<line x1="119.6" y1="375" x2="103.2" y2="392.0" stroke="#111" stroke-width="1.2"/>
<path d="M99.1 396.3L101.4 388.9L106.4 393.8Z" fill="#111"/>
<text x="133.2" y="382.7" font-size="7.5" fill="#1a1a1a">NKX3-1</text>
<line x1="129.8" y1="381" x2="111.0" y2="401.0" stroke="#111" stroke-width="1.2"/>
<path d="M107.0 405.3L109.2 397.9L114.3 402.7Z" fill="#111"/>
<text x="145.5" y="397.6" font-size="7.5" fill="#1a1a1a">KLK3</text>
<line x1="142.7" y1="396.2" x2="119.6" y2="405.3" stroke="#111" stroke-width="1.2"/>
<path d="M114.1 407.5L119.2 401.7L121.8 408.2Z" fill="#111"/>
<text x="345.1" y="319.4" font-size="7.9" text-anchor="middle" fill="#1a1a1a">LNCaP norm. miCLIP</text>
<path d="M292.0 322.7V414.0H398.5V322.7" fill="none" stroke="#111" stroke-width="0.9"/>
<line x1="285.1" y1="330.1" x2="292.0" y2="330.1" stroke="#111" stroke-width="0.8"/>
<line x1="398.5" y1="330.1" x2="404.3" y2="330.1" stroke="#111" stroke-width="0.8"/>
<text x="282.8" y="331.85" font-size="6.7" text-anchor="end" fill="#1a1a1a">WP CYTOPLASMIC RIBOSOME</text>
<text x="406.5" y="331.85" font-size="6.77" fill="#1a1a1a">WP ADENOID CYSTIC CARCINOMA</text>
<rect x="299.50" y="327.35" width="46.10" height="5.50" fill="#e7382c" stroke="#111" stroke-width="0.8"/>
<rect x="345.60" y="327.35" width="43.90" height="5.50" fill="#e7382c" stroke="#111" stroke-width="0.8"/>
<line x1="285.1" y1="338.82000000000005" x2="292.0" y2="338.82000000000005" stroke="#111" stroke-width="0.8"/>
<line x1="398.5" y1="338.82000000000005" x2="404.3" y2="338.82000000000005" stroke="#111" stroke-width="0.8"/>
<text x="282.8" y="340.57000000000005" font-size="6.7" text-anchor="end" fill="#1a1a1a">KEGG RIBOSOME</text>
<text x="406.5" y="340.57000000000005" font-size="6.77" fill="#1a1a1a">HALLMARK UV RESPONSE DN</text>
<rect x="300.75" y="336.07" width="44.85" height="5.50" fill="#e7382c" stroke="#111" stroke-width="0.8"/>
<rect x="345.60" y="336.07" width="41.90" height="5.50" fill="#e7382c" stroke="#111" stroke-width="0.8"/>
<line x1="285.1" y1="347.54" x2="292.0" y2="347.54" stroke="#111" stroke-width="0.8"/>
<line x1="398.5" y1="347.54" x2="404.3" y2="347.54" stroke="#111" stroke-width="0.8"/>
<text x="282.8" y="349.29" font-size="6.7" text-anchor="end" fill="#1a1a1a">REACT TRANSLATION INITIATION</text>
<text x="406.5" y="349.29" font-size="6.77" fill="#1a1a1a">PID HNF3A PATHWAY</text>
<rect x="301.75" y="344.79" width="43.85" height="5.50" fill="#ef7870" stroke="#111" stroke-width="0.8"/>
<rect x="345.60" y="344.79" width="41.90" height="5.50" fill="#e7382c" stroke="#111" stroke-width="0.8"/>
<line x1="285.1" y1="356.26000000000005" x2="292.0" y2="356.26000000000005" stroke="#111" stroke-width="0.8"/>
<line x1="398.5" y1="356.26000000000005" x2="404.3" y2="356.26000000000005" stroke="#111" stroke-width="0.8"/>
<text x="282.8" y="358.01000000000005" font-size="6.7" text-anchor="end" fill="#1a1a1a">REACT SRP TARGET TO MEMB</text>
<text x="406.5" y="358.01000000000005" font-size="6.77" fill="#1a1a1a">REACT PRE NOTCH EXPRESSION</text>
<rect x="301.75" y="353.51" width="43.85" height="5.50" fill="#e7382c" stroke="#111" stroke-width="0.8"/>
<rect x="345.60" y="353.51" width="41.40" height="5.50" fill="#e7382c" stroke="#111" stroke-width="0.8"/>
<line x1="285.1" y1="364.98" x2="292.0" y2="364.98" stroke="#111" stroke-width="0.8"/>
<line x1="398.5" y1="364.98" x2="404.3" y2="364.98" stroke="#111" stroke-width="0.8"/>
<text x="282.8" y="366.73" font-size="6.7" text-anchor="end" fill="#1a1a1a">REACT INFLUENZA INFECTION</text>
<text x="406.5" y="366.73" font-size="6.77" fill="#1a1a1a">WP WHITE FAT CELL DIFF</text>
<rect x="301.75" y="362.23" width="43.85" height="5.50" fill="#e83e32" stroke="#111" stroke-width="0.8"/>
<rect x="345.60" y="362.23" width="39.90" height="5.50" fill="#e7382c" stroke="#111" stroke-width="0.8"/>
<line x1="285.1" y1="373.70000000000005" x2="292.0" y2="373.70000000000005" stroke="#111" stroke-width="0.8"/>
<line x1="398.5" y1="373.70000000000005" x2="404.3" y2="373.70000000000005" stroke="#111" stroke-width="0.8"/>
<text x="282.8" y="374.55000000000007" font-size="6.7" text-anchor="end" fill="#1a1a1a">REACT SELENO AA METABOLISM</text>
<text x="406.5" y="375.45000000000005" font-size="6.77" fill="#1a1a1a">SIG IL4R IN B LYPHOCYTES</text>
<rect x="303.00" y="370.95" width="42.60" height="5.50" fill="#ee7067" stroke="#111" stroke-width="0.8"/>
<rect x="345.60" y="370.95" width="39.40" height="5.50" fill="#e83e32" stroke="#111" stroke-width="0.8"/>
<line x1="285.1" y1="382.42" x2="292.0" y2="382.42" stroke="#111" stroke-width="0.8"/>
<line x1="398.5" y1="382.42" x2="404.3" y2="382.42" stroke="#111" stroke-width="0.8"/>
<text x="282.8" y="384.17" font-size="6.7" text-anchor="end" fill="#1a1a1a">HALLMARK MYC TARGETS</text>
<text x="406.5" y="384.17" font-size="6.77" fill="#1a1a1a">ST ADRENERGIC</text>
<rect x="303.00" y="379.67" width="42.60" height="5.50" fill="#f0847c" stroke="#111" stroke-width="0.8"/>
<rect x="345.60" y="379.67" width="39.40" height="5.50" fill="#e83e32" stroke="#111" stroke-width="0.8"/>
<line x1="285.1" y1="391.14000000000004" x2="292.0" y2="391.14000000000004" stroke="#111" stroke-width="0.8"/>
<line x1="398.5" y1="391.14000000000004" x2="404.3" y2="391.14000000000004" stroke="#111" stroke-width="0.8"/>
<text x="282.8" y="392.89000000000004" font-size="6.7" text-anchor="end" fill="#1a1a1a">REACT EIF2AK4 RESP TO AA DEF</text>
<text x="406.5" y="392.89000000000004" font-size="6.77" fill="#1a1a1a">REACT O LINKED GLYCOSYLATION</text>
<rect x="303.75" y="388.39" width="41.85" height="5.50" fill="#e7382c" stroke="#111" stroke-width="0.8"/>
<rect x="345.60" y="388.39" width="38.90" height="5.50" fill="#e7382c" stroke="#111" stroke-width="0.8"/>
<line x1="285.1" y1="399.86" x2="292.0" y2="399.86" stroke="#111" stroke-width="0.8"/>
<line x1="398.5" y1="399.86" x2="404.3" y2="399.86" stroke="#111" stroke-width="0.8"/>
<text x="282.8" y="401.61" font-size="6.7" text-anchor="end" fill="#1a1a1a">REACT REG SLITS ROBOS</text>
<text x="406.5" y="401.61" font-size="6.77" fill="#1a1a1a">PID AR TF PATHWAY</text>
<rect x="303.75" y="397.11" width="41.85" height="5.50" fill="#e7382c" stroke="#111" stroke-width="0.8"/>
<rect x="345.60" y="397.11" width="38.15" height="5.50" fill="#e7382c" stroke="#111" stroke-width="0.8"/>
<line x1="285.1" y1="408.58000000000004" x2="292.0" y2="408.58000000000004" stroke="#111" stroke-width="0.8"/>
<line x1="398.5" y1="408.58000000000004" x2="404.3" y2="408.58000000000004" stroke="#111" stroke-width="0.8"/>
<text x="282.8" y="410.33000000000004" font-size="6.7" text-anchor="end" fill="#1a1a1a">REACT TRANSLATION ELONGATION</text>
<text x="406.5" y="410.33000000000004" font-size="6.77" fill="#1a1a1a">REACT GRANULOPOIESIS REG</text>
<rect x="304.25" y="405.83" width="41.35" height="5.50" fill="#f39c96" stroke="#111" stroke-width="0.8"/>
<rect x="345.60" y="405.83" width="37.65" height="5.50" fill="#e7382c" stroke="#111" stroke-width="0.8"/>
<line x1="345.6" y1="322.7" x2="345.6" y2="418.3" stroke="#111" stroke-width="0.9"/>
<line x1="319.4" y1="414.0" x2="319.4" y2="418.3" stroke="#111" stroke-width="0.9"/>
<text x="318.2" y="427.4" font-size="6.5" text-anchor="middle" fill="#1a1a1a">−2</text>
<line x1="345.6" y1="414.0" x2="345.6" y2="418.3" stroke="#111" stroke-width="0.9"/>
<text x="345.6" y="427.4" font-size="6.5" text-anchor="middle" fill="#1a1a1a">0</text>
<line x1="388.1" y1="414.0" x2="388.1" y2="418.3" stroke="#111" stroke-width="0.9"/>
<text x="388.1" y="427.4" font-size="6.5" text-anchor="middle" fill="#1a1a1a">2</text>
<text x="346.6" y="441.1" font-size="7.75" text-anchor="middle" fill="#1a1a1a">NES</text>
<rect x="400" y="432.4" width="58" height="6.4" fill="url(#grh)" stroke="#111" stroke-width="0.85"/>
<text x="423.2" y="426.09999999999997" font-size="8.2" fill="#1a1a1a"><tspan font-style="italic">P</tspan><tspan font-size="6.2" dy="1.9" dx="-0.5">adj</tspan></text>
<text x="400.5" y="442.9" font-size="6.5" transform="rotate(45 400.5 442.9)" fill="#1a1a1a" dominant-baseline="middle">&lt;0.001</text>
<text x="422.8" y="442.9" font-size="6.5" transform="rotate(45 422.8 442.9)" fill="#1a1a1a" dominant-baseline="middle">0.005</text>
<text x="433.6" y="442.9" font-size="6.5" transform="rotate(45 433.6 442.9)" fill="#1a1a1a" dominant-baseline="middle">0.01</text>
<text x="455.6" y="442.9" font-size="6.5" transform="rotate(45 455.6 442.9)" fill="#1a1a1a" dominant-baseline="middle">0.05</text>
<text x="345.1" y="468.7" font-size="7.9" text-anchor="middle" fill="#1a1a1a">RWPE norm. miCLIP</text>
<path d="M292.0 473V565.5H398.5V473" fill="none" stroke="#111" stroke-width="0.9"/>
<line x1="283.8" y1="481.25" x2="292.0" y2="481.25" stroke="#111" stroke-width="0.8"/>
<line x1="398.5" y1="481.25" x2="404.9" y2="481.25" stroke="#111" stroke-width="0.8"/>
<text x="281.5" y="483.0" font-size="6.7" text-anchor="end" fill="#1a1a1a">REACT TRANSLATION INITIATION</text>
<text x="405.5" y="483.0" font-size="6.77" fill="#1a1a1a">REACT HEPARIN METABOLISM</text>
<rect x="300.00" y="478.50" width="45.60" height="5.50" fill="#89b2dc" stroke="#111" stroke-width="0.8"/>
<rect x="345.60" y="478.50" width="39.40" height="5.50" fill="#4484c7" stroke="#111" stroke-width="0.8"/>
<line x1="283.8" y1="489.94" x2="292.0" y2="489.94" stroke="#111" stroke-width="0.8"/>
<line x1="398.5" y1="489.94" x2="404.9" y2="489.94" stroke="#111" stroke-width="0.8"/>
<text x="281.5" y="491.69" font-size="6.7" text-anchor="end" fill="#1a1a1a">REACT REG SLITS ROBOS</text>
<text x="405.5" y="491.69" font-size="6.77" fill="#1a1a1a">WP ESC PLURIPOTENCY</text>
<rect x="300.00" y="487.19" width="45.60" height="5.50" fill="#9cbee2" stroke="#111" stroke-width="0.8"/>
<rect x="345.60" y="487.19" width="39.40" height="5.50" fill="#4484c7" stroke="#111" stroke-width="0.8"/>
<line x1="283.8" y1="498.63" x2="292.0" y2="498.63" stroke="#111" stroke-width="0.8"/>
<line x1="398.5" y1="498.63" x2="404.9" y2="498.63" stroke="#111" stroke-width="0.8"/>
<text x="281.5" y="500.38" font-size="6.7" text-anchor="end" fill="#1a1a1a">REACT ROBO R SIGNALING</text>
<text x="405.5" y="500.38" font-size="6.77" fill="#1a1a1a">WP OSTEOBLAST DIFF</text>
<rect x="300.50" y="495.88" width="45.10" height="5.50" fill="#6b9ed3" stroke="#111" stroke-width="0.8"/>
<rect x="345.60" y="495.88" width="37.65" height="5.50" fill="#4887c8" stroke="#111" stroke-width="0.8"/>
<line x1="283.8" y1="507.32" x2="292.0" y2="507.32" stroke="#111" stroke-width="0.8"/>
<line x1="398.5" y1="507.32" x2="404.9" y2="507.32" stroke="#111" stroke-width="0.8"/>
<text x="281.5" y="509.07" font-size="6.7" text-anchor="end" fill="#1a1a1a">REACT NMD</text>
<text x="405.5" y="509.07" font-size="6.77" fill="#1a1a1a">REACT GLYCOSYLATION DISEASE</text>
<rect x="301.75" y="504.57" width="43.85" height="5.50" fill="#a6c5e4" stroke="#111" stroke-width="0.8"/>
<rect x="345.60" y="504.57" width="36.90" height="5.50" fill="#4887c8" stroke="#111" stroke-width="0.8"/>
<line x1="283.8" y1="516.01" x2="292.0" y2="516.01" stroke="#111" stroke-width="0.8"/>
<line x1="398.5" y1="516.01" x2="404.9" y2="516.01" stroke="#111" stroke-width="0.8"/>
<text x="281.5" y="517.76" font-size="6.7" text-anchor="end" fill="#1a1a1a">KEGG RIBOSOME</text>
<text x="405.5" y="517.76" font-size="6.77" fill="#1a1a1a">WP  ADENOID CYSTIC CARCINOMA</text>
<rect x="301.75" y="513.26" width="43.85" height="5.50" fill="#cadcef" stroke="#111" stroke-width="0.8"/>
<rect x="345.60" y="513.26" width="36.40" height="5.50" fill="#4887c8" stroke="#111" stroke-width="0.8"/>
<line x1="283.8" y1="524.7" x2="292.0" y2="524.7" stroke="#111" stroke-width="0.8"/>
<line x1="398.5" y1="524.7" x2="404.9" y2="524.7" stroke="#111" stroke-width="0.8"/>
<text x="281.5" y="526.45" font-size="6.7" text-anchor="end" fill="#1a1a1a">WP CYTO RIBO PROTEINS</text>
<text x="405.5" y="526.45" font-size="6.77" fill="#1a1a1a">REACT INTEGRIN CELL SURFACE</text>
<rect x="302.50" y="521.95" width="43.10" height="5.50" fill="#a2c2e3" stroke="#111" stroke-width="0.8"/>
<rect x="345.60" y="521.95" width="36.15" height="5.50" fill="#4887c8" stroke="#111" stroke-width="0.8"/>
<line x1="283.8" y1="533.39" x2="292.0" y2="533.39" stroke="#111" stroke-width="0.8"/>
<line x1="398.5" y1="533.39" x2="404.9" y2="533.39" stroke="#111" stroke-width="0.8"/>
<text x="281.5" y="535.14" font-size="6.7" text-anchor="end" fill="#1a1a1a">REACT SELENO AA METABOLISM</text>
<text x="405.5" y="535.14" font-size="6.77" fill="#1a1a1a">REACT PI3K AKT IN CANCER</text>
<rect x="302.50" y="530.64" width="43.10" height="5.50" fill="#9cbee2" stroke="#111" stroke-width="0.8"/>
<rect x="345.60" y="530.64" width="35.90" height="5.50" fill="#4887c8" stroke="#111" stroke-width="0.8"/>
<line x1="283.8" y1="542.08" x2="292.0" y2="542.08" stroke="#111" stroke-width="0.8"/>
<line x1="398.5" y1="542.08" x2="404.9" y2="542.08" stroke="#111" stroke-width="0.8"/>
<text x="281.5" y="543.83" font-size="6.7" text-anchor="end" fill="#1a1a1a">REACT EIF2AK4 RESP TO AA DEF</text>
<text x="405.5" y="543.83" font-size="6.77" fill="#1a1a1a">WP KIT RECEPTOR SIGNALING</text>
<rect x="303.00" y="539.33" width="42.60" height="5.50" fill="#d0e0f1" stroke="#111" stroke-width="0.8"/>
<rect x="345.60" y="539.33" width="35.90" height="5.50" fill="#4484c7" stroke="#111" stroke-width="0.8"/>
<line x1="283.8" y1="550.77" x2="292.0" y2="550.77" stroke="#111" stroke-width="0.8"/>
<line x1="398.5" y1="550.77" x2="404.9" y2="550.77" stroke="#111" stroke-width="0.8"/>
<text x="281.5" y="552.52" font-size="6.7" text-anchor="end" fill="#1a1a1a">REACTOME INFLUENZA INFECTION</text>
<text x="405.5" y="552.52" font-size="6.77" fill="#1a1a1a">WP BLADDER CANCER</text>
<rect x="303.75" y="548.02" width="41.85" height="5.50" fill="#c6daee" stroke="#111" stroke-width="0.8"/>
<rect x="345.60" y="548.02" width="35.40" height="5.50" fill="#4484c7" stroke="#111" stroke-width="0.8"/>
<line x1="283.8" y1="559.46" x2="292.0" y2="559.46" stroke="#111" stroke-width="0.8"/>
<line x1="398.5" y1="559.46" x2="404.9" y2="559.46" stroke="#111" stroke-width="0.8"/>
<text x="281.5" y="561.21" font-size="6.7" text-anchor="end" fill="#1a1a1a">REACT SRP TARGET TO MEMB</text>
<text x="405.5" y="561.21" font-size="6.77" fill="#1a1a1a">PID AR TF PATHWAY</text>
<rect x="303.75" y="556.71" width="41.85" height="5.50" fill="#b6cfe9" stroke="#111" stroke-width="0.8"/>
<rect x="345.60" y="556.71" width="34.90" height="5.50" fill="#4484c7" stroke="#111" stroke-width="0.8"/>
<line x1="345.6" y1="473" x2="345.6" y2="569.8" stroke="#111" stroke-width="0.9"/>
<line x1="318.25" y1="565.5" x2="318.25" y2="569.8" stroke="#111" stroke-width="0.9"/>
<text x="317.05" y="578.9" font-size="6.5" text-anchor="middle" fill="#1a1a1a">−2</text>
<line x1="345.5" y1="565.5" x2="345.5" y2="569.8" stroke="#111" stroke-width="0.9"/>
<text x="345.5" y="578.9" font-size="6.5" text-anchor="middle" fill="#1a1a1a">0</text>
<line x1="387.5" y1="565.5" x2="387.5" y2="569.8" stroke="#111" stroke-width="0.9"/>
<text x="387.5" y="578.9" font-size="6.5" text-anchor="middle" fill="#1a1a1a">2</text>
<text x="346.6" y="592.6" font-size="7.75" text-anchor="middle" fill="#1a1a1a">NES</text>
<rect x="398.8" y="583" width="58.19999999999999" height="6.4" fill="url(#gbh)" stroke="#111" stroke-width="0.85"/>
<text x="421.2" y="578.0" font-size="8.2" fill="#1a1a1a"><tspan font-style="italic">P</tspan><tspan font-size="6.2" dy="1.9" dx="-0.5">adj</tspan></text>
<text x="399.3" y="593.5" font-size="6.5" transform="rotate(45 399.3 593.5)" fill="#1a1a1a" dominant-baseline="middle">&lt;0.001</text>
<text x="421.6" y="593.5" font-size="6.5" transform="rotate(45 421.6 593.5)" fill="#1a1a1a" dominant-baseline="middle">0.005</text>
<text x="432.40000000000003" y="593.5" font-size="6.5" transform="rotate(45 432.40000000000003 593.5)" fill="#1a1a1a" dominant-baseline="middle">0.01</text>
<text x="454.40000000000003" y="593.5" font-size="6.5" transform="rotate(45 454.40000000000003 593.5)" fill="#1a1a1a" dominant-baseline="middle">0.05</text>
<ellipse cx="0" cy="0" rx="19.3" ry="9.2" transform="translate(83.0 552.4) rotate(-49)" fill="#a9a9a9"/>
<ellipse cx="-6" cy="0" rx="12.5" ry="10" transform="translate(83.0 552.4) rotate(-49)" fill="#a9a9a9"/>
<path d="M70.7 570.8h1.2v1.2h-1.2zM71.6 567.6h1.2v1.2h-1.2zM69.9 565.5h1.2v1.2h-1.2zM70.1 564.8h1.2v1.2h-1.2zM69.5 556.3h1.2v1.2h-1.2zM85.0 562.0h1.2v1.2h-1.2zM96.3 543.1h1.2v1.2h-1.2zM97.8 538.1h1.2v1.2h-1.2zM95.3 535.2h1.2v1.2h-1.2zM68.8 557.7h1.2v1.2h-1.2zM96.0 548.7h1.2v1.2h-1.2zM95.3 541.6h1.2v1.2h-1.2zM92.2 552.0h1.2v1.2h-1.2zM72.7 566.2h1.2v1.2h-1.2zM73.6 567.5h1.2v1.2h-1.2zM67.9 556.0h1.2v1.2h-1.2zM70.2 565.9h1.2v1.2h-1.2zM87.3 560.7h1.2v1.2h-1.2zM97.1 534.7h1.2v1.2h-1.2zM73.2 549.8h1.2v1.2h-1.2zM84.0 562.3h1.2v1.2h-1.2zM96.9 541.2h1.2v1.2h-1.2zM76.1 543.4h1.2v1.2h-1.2zM77.7 568.0h1.2v1.2h-1.2zM91.6 538.0h1.2v1.2h-1.2zM91.1 553.7h1.2v1.2h-1.2zM91.4 531.7h1.2v1.2h-1.2zM77.2 566.9h1.2v1.2h-1.2zM97.7 540.8h1.2v1.2h-1.2zM88.3 560.3h1.2v1.2h-1.2zM97.9 541.8h1.2v1.2h-1.2zM74.7 543.6h1.2v1.2h-1.2zM94.8 545.9h1.2v1.2h-1.2zM96.0 541.0h1.2v1.2h-1.2zM79.5 542.1h1.2v1.2h-1.2zM72.4 568.6h1.2v1.2h-1.2zM92.2 552.1h1.2v1.2h-1.2zM69.1 555.4h1.2v1.2h-1.2zM96.1 545.2h1.2v1.2h-1.2zM87.5 559.2h1.2v1.2h-1.2zM92.7 537.6h1.2v1.2h-1.2zM87.3 536.9h1.2v1.2h-1.2zM93.3 554.3h1.2v1.2h-1.2zM67.5 555.9h1.2v1.2h-1.2zM96.5 543.7h1.2v1.2h-1.2zM88.0 557.9h1.2v1.2h-1.2zM77.6 544.2h1.2v1.2h-1.2zM96.7 541.5h1.2v1.2h-1.2zM96.5 543.0h1.2v1.2h-1.2zM68.5 559.0h1.2v1.2h-1.2zM78.5 570.4h1.2v1.2h-1.2zM70.7 566.8h1.2v1.2h-1.2zM68.4 561.2h1.2v1.2h-1.2zM94.7 548.7h1.2v1.2h-1.2zM88.7 537.4h1.2v1.2h-1.2zM93.3 552.0h1.2v1.2h-1.2zM74.8 546.8h1.2v1.2h-1.2zM91.5 537.4h1.2v1.2h-1.2zM87.1 536.9h1.2v1.2h-1.2zM96.3 544.1h1.2v1.2h-1.2zM96.2 539.3h1.2v1.2h-1.2zM72.8 550.0h1.2v1.2h-1.2zM88.6 558.3h1.2v1.2h-1.2zM86.3 562.5h1.2v1.2h-1.2zM93.0 550.7h1.2v1.2h-1.2zM90.4 555.6h1.2v1.2h-1.2zM67.7 562.9h1.2v1.2h-1.2zM87.3 561.1h1.2v1.2h-1.2zM89.1 537.9h1.2v1.2h-1.2zM87.4 558.9h1.2v1.2h-1.2zM73.4 567.3h1.2v1.2h-1.2zM79.8 565.4h1.2v1.2h-1.2zM68.0 561.7h1.2v1.2h-1.2zM87.7 536.9h1.2v1.2h-1.2zM94.2 536.5h1.2v1.2h-1.2zM66.5 561.6h1.2v1.2h-1.2zM94.6 547.6h1.2v1.2h-1.2zM88.6 538.0h1.2v1.2h-1.2zM72.6 550.3h1.2v1.2h-1.2zM69.9 555.8h1.2v1.2h-1.2zM71.9 565.4h1.2v1.2h-1.2zM95.2 537.1h1.2v1.2h-1.2zM98.5 540.4h1.2v1.2h-1.2zM88.3 537.2h1.2v1.2h-1.2zM74.7 547.1h1.2v1.2h-1.2zM90.8 534.1h1.2v1.2h-1.2zM81.0 566.0h1.2v1.2h-1.2zM86.8 534.8h1.2v1.2h-1.2zM75.6 567.1h1.2v1.2h-1.2zM65.1 563.6h1.2v1.2h-1.2zM67.6 557.5h1.2v1.2h-1.2zM67.5 558.9h1.2v1.2h-1.2zM99.5 540.1h1.2v1.2h-1.2zM88.0 533.5h1.2v1.2h-1.2zM73.0 547.4h1.2v1.2h-1.2zM67.0 561.6h1.2v1.2h-1.2zM74.2 566.4h1.2v1.2h-1.2zM75.9 546.1h1.2v1.2h-1.2zM96.4 538.4h1.2v1.2h-1.2zM90.7 555.9h1.2v1.2h-1.2zM70.4 550.2h1.2v1.2h-1.2zM89.3 537.9h1.2v1.2h-1.2zM89.0 558.5h1.2v1.2h-1.2zM71.5 552.3h1.2v1.2h-1.2zM93.1 553.3h1.2v1.2h-1.2zM66.8 554.2h1.2v1.2h-1.2zM73.5 567.6h1.2v1.2h-1.2zM69.9 553.4h1.2v1.2h-1.2zM94.4 553.0h1.2v1.2h-1.2zM89.7 536.3h1.2v1.2h-1.2zM87.0 536.6h1.2v1.2h-1.2zM84.1 563.8h1.2v1.2h-1.2zM98.2 546.0h1.2v1.2h-1.2zM83.9 539.9h1.2v1.2h-1.2zM72.3 549.2h1.2v1.2h-1.2zM93.6 550.1h1.2v1.2h-1.2zM73.7 566.1h1.2v1.2h-1.2zM75.7 567.5h1.2v1.2h-1.2zM67.8 557.3h1.2v1.2h-1.2zM83.1 540.4h1.2v1.2h-1.2zM93.4 537.6h1.2v1.2h-1.2zM94.8 540.0h1.2v1.2h-1.2zM86.7 535.8h1.2v1.2h-1.2zM68.5 561.4h1.2v1.2h-1.2zM84.4 561.8h1.2v1.2h-1.2zM94.7 547.2h1.2v1.2h-1.2zM70.8 570.2h1.2v1.2h-1.2zM89.7 556.3h1.2v1.2h-1.2zM96.9 546.9h1.2v1.2h-1.2zM73.6 566.8h1.2v1.2h-1.2zM67.6 557.0h1.2v1.2h-1.2zM93.9 534.5h1.2v1.2h-1.2zM71.3 551.7h1.2v1.2h-1.2zM94.6 550.9h1.2v1.2h-1.2zM97.0 536.1h1.2v1.2h-1.2zM93.2 551.0h1.2v1.2h-1.2zM87.7 560.1h1.2v1.2h-1.2zM67.9 566.3h1.2v1.2h-1.2zM69.4 557.6h1.2v1.2h-1.2zM78.9 541.9h1.2v1.2h-1.2zM90.3 533.6h1.2v1.2h-1.2zM72.6 547.9h1.2v1.2h-1.2zM97.2 545.8h1.2v1.2h-1.2zM89.0 537.2h1.2v1.2h-1.2zM78.2 569.4h1.2v1.2h-1.2zM79.4 541.7h1.2v1.2h-1.2zM92.8 534.6h1.2v1.2h-1.2zM91.9 553.4h1.2v1.2h-1.2zM73.4 548.3h1.2v1.2h-1.2zM72.0 548.3h1.2v1.2h-1.2zM94.2 554.9h1.2v1.2h-1.2zM95.4 534.6h1.2v1.2h-1.2zM69.5 563.3h1.2v1.2h-1.2zM89.4 536.2h1.2v1.2h-1.2zM84.5 539.2h1.2v1.2h-1.2zM74.0 566.7h1.2v1.2h-1.2zM69.4 562.4h1.2v1.2h-1.2zM96.8 537.8h1.2v1.2h-1.2zM80.3 539.5h1.2v1.2h-1.2zM94.3 550.4h1.2v1.2h-1.2zM82.5 563.6h1.2v1.2h-1.2zM95.0 548.1h1.2v1.2h-1.2zM70.0 564.6h1.2v1.2h-1.2zM68.8 551.0h1.2v1.2h-1.2zM94.4 532.2h1.2v1.2h-1.2zM95.3 543.4h1.2v1.2h-1.2zM91.5 555.1h1.2v1.2h-1.2zM74.5 548.0h1.2v1.2h-1.2zM66.0 556.7h1.2v1.2h-1.2zM68.9 562.0h1.2v1.2h-1.2zM84.8 564.4h1.2v1.2h-1.2zM89.1 535.3h1.2v1.2h-1.2zM93.5 554.1h1.2v1.2h-1.2zM66.0 567.8h1.2v1.2h-1.2zM68.5 561.2h1.2v1.2h-1.2zM68.9 567.1h1.2v1.2h-1.2zM63.6 561.1h1.2v1.2h-1.2zM69.7 564.9h1.2v1.2h-1.2zM77.0 566.6h1.2v1.2h-1.2zM69.4 567.7h1.2v1.2h-1.2zM70.3 551.0h1.2v1.2h-1.2zM75.9 567.0h1.2v1.2h-1.2zM92.6 536.4h1.2v1.2h-1.2zM71.9 566.3h1.2v1.2h-1.2zM98.0 545.2h1.2v1.2h-1.2zM88.6 536.6h1.2v1.2h-1.2zM71.9 566.0h1.2v1.2h-1.2zM68.3 557.8h1.2v1.2h-1.2zM91.0 535.1h1.2v1.2h-1.2zM96.9 537.3h1.2v1.2h-1.2zM92.3 552.4h1.2v1.2h-1.2zM83.8 565.4h1.2v1.2h-1.2zM80.8 565.1h1.2v1.2h-1.2zM74.5 547.7h1.2v1.2h-1.2zM96.2 545.6h1.2v1.2h-1.2zM91.9 552.7h1.2v1.2h-1.2zM68.3 565.0h1.2v1.2h-1.2zM76.0 566.7h1.2v1.2h-1.2zM69.4 564.0h1.2v1.2h-1.2zM68.6 556.5h1.2v1.2h-1.2zM65.9 556.7h1.2v1.2h-1.2zM68.7 558.1h1.2v1.2h-1.2zM84.6 539.3h1.2v1.2h-1.2zM80.4 539.4h1.2v1.2h-1.2zM88.4 537.4h1.2v1.2h-1.2zM90.4 536.1h1.2v1.2h-1.2zM93.5 555.4h1.2v1.2h-1.2zM94.4 547.2h1.2v1.2h-1.2zM89.4 556.3h1.2v1.2h-1.2zM96.7 543.4h1.2v1.2h-1.2zM82.6 537.9h1.2v1.2h-1.2zM96.3 545.8h1.2v1.2h-1.2zM77.1 565.9h1.2v1.2h-1.2zM91.9 553.0h1.2v1.2h-1.2zM67.6 551.8h1.2v1.2h-1.2zM97.7 544.3h1.2v1.2h-1.2zM70.9 564.5h1.2v1.2h-1.2zM69.8 551.5h1.2v1.2h-1.2zM93.0 551.9h1.2v1.2h-1.2zM95.1 540.2h1.2v1.2h-1.2zM66.9 564.3h1.2v1.2h-1.2zM94.2 548.2h1.2v1.2h-1.2zM93.4 551.5h1.2v1.2h-1.2zM96.5 534.6h1.2v1.2h-1.2zM90.0 537.3h1.2v1.2h-1.2zM91.5 537.5h1.2v1.2h-1.2zM73.1 565.9h1.2v1.2h-1.2zM71.5 567.6h1.2v1.2h-1.2zM68.2 566.5h1.2v1.2h-1.2zM95.2 538.3h1.2v1.2h-1.2zM72.3 550.3h1.2v1.2h-1.2zM72.9 567.0h1.2v1.2h-1.2zM74.8 546.9h1.2v1.2h-1.2zM94.0 549.7h1.2v1.2h-1.2zM66.6 568.5h1.2v1.2h-1.2zM80.1 542.4h1.2v1.2h-1.2zM71.6 549.7h1.2v1.2h-1.2zM76.1 568.3h1.2v1.2h-1.2zM63.0 562.1h1.2v1.2h-1.2zM80.4 542.4h1.2v1.2h-1.2zM89.3 559.3h1.2v1.2h-1.2zM77.7 543.2h1.2v1.2h-1.2zM80.8 538.9h1.2v1.2h-1.2zM87.1 536.2h1.2v1.2h-1.2zM72.2 550.8h1.2v1.2h-1.2zM75.4 569.8h1.2v1.2h-1.2zM73.1 548.1h1.2v1.2h-1.2zM72.2 566.4h1.2v1.2h-1.2zM95.7 537.5h1.2v1.2h-1.2zM67.2 557.7h1.2v1.2h-1.2zM91.5 556.6h1.2v1.2h-1.2zM82.3 564.5h1.2v1.2h-1.2zM68.5 554.1h1.2v1.2h-1.2zM77.8 566.7h1.2v1.2h-1.2zM95.4 536.9h1.2v1.2h-1.2zM76.0 544.3h1.2v1.2h-1.2zM95.1 535.3h1.2v1.2h-1.2zM75.2 547.2h1.2v1.2h-1.2zM88.3 557.9h1.2v1.2h-1.2zM92.2 552.5h1.2v1.2h-1.2zM79.0 566.5h1.2v1.2h-1.2zM88.7 537.2h1.2v1.2h-1.2zM64.0 566.8h1.2v1.2h-1.2zM69.1 561.2h1.2v1.2h-1.2zM95.5 536.2h1.2v1.2h-1.2zM98.1 540.8h1.2v1.2h-1.2zM69.3 558.9h1.2v1.2h-1.2zM90.3 537.2h1.2v1.2h-1.2zM94.7 549.2h1.2v1.2h-1.2zM71.3 565.0h1.2v1.2h-1.2zM64.5 560.1h1.2v1.2h-1.2zM74.9 568.0h1.2v1.2h-1.2zM68.7 565.0h1.2v1.2h-1.2zM86.5 560.8h1.2v1.2h-1.2zM69.0 554.4h1.2v1.2h-1.2zM73.4 548.9h1.2v1.2h-1.2zM85.8 562.0h1.2v1.2h-1.2zM94.9 540.7h1.2v1.2h-1.2zM93.7 549.1h1.2v1.2h-1.2zM88.5 536.1h1.2v1.2h-1.2zM73.1 544.1h1.2v1.2h-1.2zM92.1 535.7h1.2v1.2h-1.2zM97.0 541.3h1.2v1.2h-1.2zM71.3 566.7h1.2v1.2h-1.2zM92.4 538.2h1.2v1.2h-1.2zM92.0 535.0h1.2v1.2h-1.2zM70.4 547.0h1.2v1.2h-1.2zM81.3 540.8h1.2v1.2h-1.2zM67.1 559.6h1.2v1.2h-1.2zM72.2 568.0h1.2v1.2h-1.2zM93.2 553.5h1.2v1.2h-1.2zM95.4 546.1h1.2v1.2h-1.2zM73.6 567.2h1.2v1.2h-1.2zM88.6 559.2h1.2v1.2h-1.2zM66.0 562.1h1.2v1.2h-1.2zM68.4 564.9h1.2v1.2h-1.2zM96.4 535.5h1.2v1.2h-1.2zM89.9 556.5h1.2v1.2h-1.2zM97.7 544.2h1.2v1.2h-1.2zM67.3 557.6h1.2v1.2h-1.2zM80.5 564.9h1.2v1.2h-1.2zM66.1 563.6h1.2v1.2h-1.2zM66.8 560.7h1.2v1.2h-1.2zM94.3 552.0h1.2v1.2h-1.2zM90.9 559.0h1.2v1.2h-1.2zM86.4 538.2h1.2v1.2h-1.2zM96.2 539.3h1.2v1.2h-1.2zM75.2 566.6h1.2v1.2h-1.2zM67.5 557.6h1.2v1.2h-1.2zM96.7 541.5h1.2v1.2h-1.2zM96.3 542.8h1.2v1.2h-1.2zM67.4 557.0h1.2v1.2h-1.2zM79.2 566.5h1.2v1.2h-1.2zM81.8 563.9h1.2v1.2h-1.2zM75.7 546.7h1.2v1.2h-1.2zM95.4 545.7h1.2v1.2h-1.2zM80.4 540.2h1.2v1.2h-1.2zM92.6 554.5h1.2v1.2h-1.2zM75.5 566.1h1.2v1.2h-1.2zM79.1 568.9h1.2v1.2h-1.2zM68.7 554.6h1.2v1.2h-1.2zM69.6 562.3h1.2v1.2h-1.2zM75.0 546.0h1.2v1.2h-1.2zM79.6 566.0h1.2v1.2h-1.2zM95.7 544.0h1.2v1.2h-1.2zM95.7 542.9h1.2v1.2h-1.2zM66.1 563.7h1.2v1.2h-1.2zM85.2 561.2h1.2v1.2h-1.2zM77.7 543.7h1.2v1.2h-1.2zM70.2 553.7h1.2v1.2h-1.2zM96.3 542.5h1.2v1.2h-1.2zM69.8 550.6h1.2v1.2h-1.2zM86.7 560.6h1.2v1.2h-1.2zM73.5 547.9h1.2v1.2h-1.2zM79.6 567.4h1.2v1.2h-1.2zM67.1 562.6h1.2v1.2h-1.2zM91.5 533.2h1.2v1.2h-1.2zM73.6 567.9h1.2v1.2h-1.2zM80.2 542.1h1.2v1.2h-1.2zM76.7 567.6h1.2v1.2h-1.2zM91.0 536.5h1.2v1.2h-1.2zM80.3 565.6h1.2v1.2h-1.2zM79.9 566.2h1.2v1.2h-1.2zM77.8 567.2h1.2v1.2h-1.2zM94.6 552.6h1.2v1.2h-1.2zM68.4 564.0h1.2v1.2h-1.2zM83.0 539.5h1.2v1.2h-1.2zM76.7 545.5h1.2v1.2h-1.2zM86.4 538.7h1.2v1.2h-1.2zM70.2 564.4h1.2v1.2h-1.2zM64.7 566.8h1.2v1.2h-1.2zM68.2 554.9h1.2v1.2h-1.2zM80.0 540.7h1.2v1.2h-1.2zM78.8 542.9h1.2v1.2h-1.2zM98.2 541.4h1.2v1.2h-1.2zM88.5 536.5h1.2v1.2h-1.2zM95.9 542.9h1.2v1.2h-1.2zM75.5 546.4h1.2v1.2h-1.2zM70.3 554.7h1.2v1.2h-1.2zM76.8 544.5h1.2v1.2h-1.2zM70.2 563.9h1.2v1.2h-1.2zM82.3 565.5h1.2v1.2h-1.2zM93.0 536.9h1.2v1.2h-1.2zM67.8 564.8h1.2v1.2h-1.2zM73.4 548.4h1.2v1.2h-1.2zM74.5 570.9h1.2v1.2h-1.2zM82.1 539.4h1.2v1.2h-1.2zM79.9 539.7h1.2v1.2h-1.2zM82.8 537.1h1.2v1.2h-1.2zM66.6 556.3h1.2v1.2h-1.2zM69.4 564.5h1.2v1.2h-1.2zM73.9 570.1h1.2v1.2h-1.2zM74.8 568.3h1.2v1.2h-1.2zM95.6 535.8h1.2v1.2h-1.2zM79.1 565.8h1.2v1.2h-1.2zM74.9 567.3h1.2v1.2h-1.2zM85.9 561.0h1.2v1.2h-1.2zM84.5 561.8h1.2v1.2h-1.2zM97.0 544.6h1.2v1.2h-1.2zM95.1 550.9h1.2v1.2h-1.2zM97.8 539.8h1.2v1.2h-1.2zM88.8 537.4h1.2v1.2h-1.2zM95.7 539.6h1.2v1.2h-1.2zM91.2 554.6h1.2v1.2h-1.2zM89.8 556.1h1.2v1.2h-1.2zM92.0 555.7h1.2v1.2h-1.2zM92.6 551.6h1.2v1.2h-1.2zM76.2 545.3h1.2v1.2h-1.2zM84.9 565.0h1.2v1.2h-1.2zM71.3 566.5h1.2v1.2h-1.2zM89.4 559.8h1.2v1.2h-1.2zM81.9 566.7h1.2v1.2h-1.2zM67.4 564.3h1.2v1.2h-1.2zM90.8 554.9h1.2v1.2h-1.2zM98.5 538.2h1.2v1.2h-1.2zM78.2 566.7h1.2v1.2h-1.2zM68.6 565.0h1.2v1.2h-1.2zM93.3 538.5h1.2v1.2h-1.2zM70.7 554.0h1.2v1.2h-1.2zM72.3 565.8h1.2v1.2h-1.2zM79.4 566.0h1.2v1.2h-1.2zM66.1 559.8h1.2v1.2h-1.2zM94.6 549.0h1.2v1.2h-1.2zM88.6 558.7h1.2v1.2h-1.2zM86.3 536.1h1.2v1.2h-1.2zM93.5 538.4h1.2v1.2h-1.2zM87.9 559.2h1.2v1.2h-1.2zM77.7 544.8h1.2v1.2h-1.2zM95.2 537.2h1.2v1.2h-1.2zM81.6 538.3h1.2v1.2h-1.2zM95.5 543.0h1.2v1.2h-1.2zM98.4 542.3h1.2v1.2h-1.2zM67.9 570.9h1.2v1.2h-1.2zM68.2 560.3h1.2v1.2h-1.2zM84.8 538.4h1.2v1.2h-1.2zM74.4 569.9h1.2v1.2h-1.2zM90.8 534.4h1.2v1.2h-1.2zM92.7 553.9h1.2v1.2h-1.2zM68.6 563.6h1.2v1.2h-1.2zM82.6 540.7h1.2v1.2h-1.2zM84.3 562.1h1.2v1.2h-1.2zM84.8 562.1h1.2v1.2h-1.2zM72.6 566.0h1.2v1.2h-1.2zM70.4 551.4h1.2v1.2h-1.2zM96.8 544.0h1.2v1.2h-1.2zM93.2 536.6h1.2v1.2h-1.2zM82.4 540.8h1.2v1.2h-1.2zM79.1 565.4h1.2v1.2h-1.2zM73.3 549.6h1.2v1.2h-1.2zM71.5 568.8h1.2v1.2h-1.2zM97.4 535.6h1.2v1.2h-1.2zM91.4 553.5h1.2v1.2h-1.2zM69.0 557.6h1.2v1.2h-1.2zM67.9 564.5h1.2v1.2h-1.2zM85.5 561.8h1.2v1.2h-1.2zM69.4 553.4h1.2v1.2h-1.2zM88.6 558.2h1.2v1.2h-1.2zM83.1 566.0h1.2v1.2h-1.2zM92.9 534.4h1.2v1.2h-1.2zM82.8 564.3h1.2v1.2h-1.2zM82.1 540.3h1.2v1.2h-1.2zM95.7 543.7h1.2v1.2h-1.2zM71.3 552.3h1.2v1.2h-1.2zM76.7 567.1h1.2v1.2h-1.2zM83.0 539.9h1.2v1.2h-1.2zM90.4 555.3h1.2v1.2h-1.2zM95.0 548.8h1.2v1.2h-1.2zM96.7 541.5h1.2v1.2h-1.2zM90.5 535.5h1.2v1.2h-1.2zM69.2 555.1h1.2v1.2h-1.2zM77.1 544.7h1.2v1.2h-1.2zM82.8 564.9h1.2v1.2h-1.2zM75.5 568.2h1.2v1.2h-1.2zM72.7 550.4h1.2v1.2h-1.2zM93.4 537.6h1.2v1.2h-1.2zM66.3 559.5h1.2v1.2h-1.2zM95.1 538.8h1.2v1.2h-1.2zM68.7 554.9h1.2v1.2h-1.2zM96.8 544.0h1.2v1.2h-1.2zM78.7 542.4h1.2v1.2h-1.2zM82.0 540.4h1.2v1.2h-1.2zM77.2 544.8h1.2v1.2h-1.2zM88.9 536.2h1.2v1.2h-1.2zM70.7 565.2h1.2v1.2h-1.2zM95.5 547.4h1.2v1.2h-1.2zM64.9 569.9h1.2v1.2h-1.2zM73.3 549.0h1.2v1.2h-1.2zM91.6 536.6h1.2v1.2h-1.2zM69.4 556.6h1.2v1.2h-1.2zM89.3 557.0h1.2v1.2h-1.2zM68.7 560.8h1.2v1.2h-1.2zM90.9 535.9h1.2v1.2h-1.2zM80.3 565.7h1.2v1.2h-1.2zM92.6 538.0h1.2v1.2h-1.2zM96.4 546.6h1.2v1.2h-1.2zM68.0 562.7h1.2v1.2h-1.2zM69.1 561.8h1.2v1.2h-1.2zM97.3 533.9h1.2v1.2h-1.2zM81.3 541.0h1.2v1.2h-1.2zM82.0 540.7h1.2v1.2h-1.2zM86.3 561.1h1.2v1.2h-1.2zM68.4 561.3h1.2v1.2h-1.2zM82.5 540.0h1.2v1.2h-1.2zM97.6 541.1h1.2v1.2h-1.2zM97.1 537.8h1.2v1.2h-1.2zM94.1 531.6h1.2v1.2h-1.2zM69.6 554.1h1.2v1.2h-1.2zM73.7 546.4h1.2v1.2h-1.2zM77.9 568.7h1.2v1.2h-1.2zM96.1 537.5h1.2v1.2h-1.2zM92.5 552.9h1.2v1.2h-1.2zM78.4 565.6h1.2v1.2h-1.2zM68.2 561.8h1.2v1.2h-1.2zM88.6 559.5h1.2v1.2h-1.2zM67.9 562.1h1.2v1.2h-1.2zM97.3 538.2h1.2v1.2h-1.2zM68.2 553.0h1.2v1.2h-1.2zM64.9 561.0h1.2v1.2h-1.2zM70.8 568.3h1.2v1.2h-1.2zM70.9 551.2h1.2v1.2h-1.2zM76.8 545.8h1.2v1.2h-1.2zM95.5 536.3h1.2v1.2h-1.2zM83.1 539.3h1.2v1.2h-1.2zM73.9 567.9h1.2v1.2h-1.2zM67.2 562.7h1.2v1.2h-1.2zM68.9 564.9h1.2v1.2h-1.2zM74.2 567.7h1.2v1.2h-1.2zM96.0 540.6h1.2v1.2h-1.2zM72.7 547.6h1.2v1.2h-1.2zM67.2 560.0h1.2v1.2h-1.2zM76.0 545.9h1.2v1.2h-1.2zM97.8 540.4h1.2v1.2h-1.2zM96.9 545.4h1.2v1.2h-1.2zM77.3 566.5h1.2v1.2h-1.2zM95.8 540.6h1.2v1.2h-1.2zM90.6 557.1h1.2v1.2h-1.2zM84.9 562.5h1.2v1.2h-1.2zM96.0 541.6h1.2v1.2h-1.2zM90.2 534.7h1.2v1.2h-1.2zM85.5 538.6h1.2v1.2h-1.2zM75.6 566.5h1.2v1.2h-1.2zM75.3 546.2h1.2v1.2h-1.2zM68.6 561.7h1.2v1.2h-1.2zM79.3 542.9h1.2v1.2h-1.2zM99.6 544.2h1.2v1.2h-1.2zM94.7 537.7h1.2v1.2h-1.2zM89.2 556.8h1.2v1.2h-1.2zM96.9 540.6h1.2v1.2h-1.2zM87.8 537.5h1.2v1.2h-1.2zM80.6 566.4h1.2v1.2h-1.2zM68.8 560.1h1.2v1.2h-1.2zM87.8 538.2h1.2v1.2h-1.2zM85.5 565.7h1.2v1.2h-1.2zM92.6 538.3h1.2v1.2h-1.2zM72.2 566.0h1.2v1.2h-1.2zM90.4 536.1h1.2v1.2h-1.2zM88.2 536.9h1.2v1.2h-1.2zM80.6 568.2h1.2v1.2h-1.2zM71.0 567.7h1.2v1.2h-1.2zM96.8 534.8h1.2v1.2h-1.2zM92.2 553.2h1.2v1.2h-1.2zM86.7 537.7h1.2v1.2h-1.2zM97.6 539.0h1.2v1.2h-1.2zM84.5 563.8h1.2v1.2h-1.2zM88.8 535.8h1.2v1.2h-1.2zM96.7 546.4h1.2v1.2h-1.2zM70.9 550.5h1.2v1.2h-1.2zM96.0 542.4h1.2v1.2h-1.2zM91.0 555.2h1.2v1.2h-1.2zM94.2 552.8h1.2v1.2h-1.2zM92.9 551.2h1.2v1.2h-1.2zM78.5 541.3h1.2v1.2h-1.2zM79.0 567.4h1.2v1.2h-1.2zM65.4 561.7h1.2v1.2h-1.2zM90.8 555.8h1.2v1.2h-1.2zM66.7 553.5h1.2v1.2h-1.2zM86.9 559.7h1.2v1.2h-1.2zM93.4 537.7h1.2v1.2h-1.2zM72.9 568.8h1.2v1.2h-1.2zM95.3 540.6h1.2v1.2h-1.2zM69.0 558.9h1.2v1.2h-1.2zM80.0 541.4h1.2v1.2h-1.2zM95.9 543.1h1.2v1.2h-1.2zM90.6 558.2h1.2v1.2h-1.2zM87.0 560.3h1.2v1.2h-1.2zM87.8 537.9h1.2v1.2h-1.2zM95.0 536.2h1.2v1.2h-1.2zM76.1 546.2h1.2v1.2h-1.2zM77.9 567.8h1.2v1.2h-1.2zM93.6 551.1h1.2v1.2h-1.2zM68.3 562.8h1.2v1.2h-1.2zM69.2 554.1h1.2v1.2h-1.2zM78.0 542.4h1.2v1.2h-1.2zM83.7 539.9h1.2v1.2h-1.2zM67.4 551.5h1.2v1.2h-1.2zM93.5 550.6h1.2v1.2h-1.2zM78.0 543.3h1.2v1.2h-1.2zM90.9 556.7h1.2v1.2h-1.2zM74.2 566.5h1.2v1.2h-1.2zM78.4 540.9h1.2v1.2h-1.2zM90.3 556.5h1.2v1.2h-1.2zM69.2 560.2h1.2v1.2h-1.2zM68.8 567.5h1.2v1.2h-1.2zM73.3 549.1h1.2v1.2h-1.2zM68.4 561.3h1.2v1.2h-1.2zM94.7 548.5h1.2v1.2h-1.2zM96.3 537.4h1.2v1.2h-1.2zM74.4 566.0h1.2v1.2h-1.2zM87.8 558.3h1.2v1.2h-1.2zM88.7 537.3h1.2v1.2h-1.2zM65.6 563.6h1.2v1.2h-1.2zM89.9 556.5h1.2v1.2h-1.2zM94.2 548.2h1.2v1.2h-1.2zM84.1 562.5h1.2v1.2h-1.2zM67.9 557.7h1.2v1.2h-1.2zM69.0 559.7h1.2v1.2h-1.2zM95.7 543.4h1.2v1.2h-1.2zM88.8 558.1h1.2v1.2h-1.2zM94.8 549.1h1.2v1.2h-1.2zM78.0 541.3h1.2v1.2h-1.2zM96.8 540.5h1.2v1.2h-1.2zM91.4 554.5h1.2v1.2h-1.2zM94.1 535.6h1.2v1.2h-1.2zM76.8 545.3h1.2v1.2h-1.2zM94.2 537.0h1.2v1.2h-1.2zM74.9 546.1h1.2v1.2h-1.2zM95.0 540.4h1.2v1.2h-1.2zM98.4 546.4h1.2v1.2h-1.2zM77.7 566.3h1.2v1.2h-1.2zM97.3 541.4h1.2v1.2h-1.2zM98.1 537.1h1.2v1.2h-1.2zM75.1 547.7h1.2v1.2h-1.2zM89.9 555.5h1.2v1.2h-1.2zM90.5 557.4h1.2v1.2h-1.2zM71.9 567.7h1.2v1.2h-1.2zM82.3 564.2h1.2v1.2h-1.2zM93.1 537.9h1.2v1.2h-1.2zM77.0 566.1h1.2v1.2h-1.2zM68.6 555.0h1.2v1.2h-1.2zM72.0 550.8h1.2v1.2h-1.2zM86.0 535.6h1.2v1.2h-1.2zM71.4 568.3h1.2v1.2h-1.2zM77.5 566.8h1.2v1.2h-1.2zM78.1 543.0h1.2v1.2h-1.2zM91.3 554.4h1.2v1.2h-1.2zM68.6 563.1h1.2v1.2h-1.2zM93.8 549.7h1.2v1.2h-1.2zM71.8 567.1h1.2v1.2h-1.2zM85.8 566.9h1.2v1.2h-1.2zM69.7 552.2h1.2v1.2h-1.2zM85.1 538.8h1.2v1.2h-1.2zM97.1 541.2h1.2v1.2h-1.2zM71.4 551.1h1.2v1.2h-1.2zM95.4 538.4h1.2v1.2h-1.2zM92.7 551.3h1.2v1.2h-1.2zM90.7 535.6h1.2v1.2h-1.2zM73.6 549.2h1.2v1.2h-1.2zM95.6 548.4h1.2v1.2h-1.2zM91.8 535.4h1.2v1.2h-1.2zM72.5 547.8h1.2v1.2h-1.2zM89.2 536.1h1.2v1.2h-1.2zM78.5 565.6h1.2v1.2h-1.2zM96.5 542.4h1.2v1.2h-1.2zM77.3 544.2h1.2v1.2h-1.2zM68.6 565.7h1.2v1.2h-1.2zM89.7 556.4h1.2v1.2h-1.2zM96.4 539.3h1.2v1.2h-1.2zM96.8 538.1h1.2v1.2h-1.2zM84.6 563.9h1.2v1.2h-1.2zM95.5 547.0h1.2v1.2h-1.2zM73.1 549.9h1.2v1.2h-1.2zM67.8 553.5h1.2v1.2h-1.2zM94.4 548.2h1.2v1.2h-1.2zM72.4 549.1h1.2v1.2h-1.2zM75.6 569.4h1.2v1.2h-1.2zM91.8 555.9h1.2v1.2h-1.2zM85.9 561.1h1.2v1.2h-1.2zM95.9 539.7h1.2v1.2h-1.2zM96.1 538.2h1.2v1.2h-1.2zM80.5 540.7h1.2v1.2h-1.2zM93.2 537.3h1.2v1.2h-1.2zM90.8 534.7h1.2v1.2h-1.2zM91.5 554.5h1.2v1.2h-1.2zM93.5 534.8h1.2v1.2h-1.2zM85.5 538.9h1.2v1.2h-1.2zM98.1 541.9h1.2v1.2h-1.2zM75.1 566.6h1.2v1.2h-1.2zM78.6 565.8h1.2v1.2h-1.2zM83.1 564.5h1.2v1.2h-1.2zM93.6 549.3h1.2v1.2h-1.2zM76.7 567.1h1.2v1.2h-1.2zM70.8 553.4h1.2v1.2h-1.2zM90.1 556.9h1.2v1.2h-1.2zM75.2 567.1h1.2v1.2h-1.2zM96.5 547.9h1.2v1.2h-1.2zM67.9 563.3h1.2v1.2h-1.2zM71.2 550.1h1.2v1.2h-1.2zM80.1 565.0h1.2v1.2h-1.2zM95.6 541.6h1.2v1.2h-1.2zM71.1 565.2h1.2v1.2h-1.2zM67.4 560.9h1.2v1.2h-1.2zM88.5 557.6h1.2v1.2h-1.2zM96.8 537.5h1.2v1.2h-1.2zM65.6 563.9h1.2v1.2h-1.2zM88.0 558.5h1.2v1.2h-1.2zM71.9 566.8h1.2v1.2h-1.2zM67.5 558.3h1.2v1.2h-1.2zM68.8 560.8h1.2v1.2h-1.2zM90.9 537.5h1.2v1.2h-1.2zM66.6 558.2h1.2v1.2h-1.2zM75.9 567.5h1.2v1.2h-1.2zM82.4 540.2h1.2v1.2h-1.2zM87.4 535.3h1.2v1.2h-1.2zM97.8 537.8h1.2v1.2h-1.2zM96.1 546.7h1.2v1.2h-1.2zM80.5 564.6h1.2v1.2h-1.2zM93.2 537.5h1.2v1.2h-1.2zM90.6 555.7h1.2v1.2h-1.2zM71.7 552.1h1.2v1.2h-1.2zM69.7 562.6h1.2v1.2h-1.2zM77.8 565.7h1.2v1.2h-1.2zM67.9 555.0h1.2v1.2h-1.2zM67.8 563.9h1.2v1.2h-1.2zM82.5 539.2h1.2v1.2h-1.2zM92.9 537.1h1.2v1.2h-1.2zM87.4 536.8h1.2v1.2h-1.2zM84.2 562.6h1.2v1.2h-1.2zM69.3 551.4h1.2v1.2h-1.2zM92.3 537.5h1.2v1.2h-1.2zM68.5 557.4h1.2v1.2h-1.2zM70.1 566.9h1.2v1.2h-1.2zM86.4 560.6h1.2v1.2h-1.2zM75.5 545.9h1.2v1.2h-1.2zM88.7 557.2h1.2v1.2h-1.2zM83.3 563.7h1.2v1.2h-1.2zM96.8 545.6h1.2v1.2h-1.2zM95.9 541.3h1.2v1.2h-1.2zM72.8 550.0h1.2v1.2h-1.2zM98.3 543.8h1.2v1.2h-1.2zM71.3 566.4h1.2v1.2h-1.2zM96.0 549.1h1.2v1.2h-1.2zM98.1 538.8h1.2v1.2h-1.2zM90.1 559.2h1.2v1.2h-1.2zM77.9 565.7h1.2v1.2h-1.2zM73.8 549.1h1.2v1.2h-1.2zM83.4 565.9h1.2v1.2h-1.2zM82.5 563.5h1.2v1.2h-1.2zM82.3 537.5h1.2v1.2h-1.2zM66.4 563.2h1.2v1.2h-1.2zM68.0 557.5h1.2v1.2h-1.2zM82.5 540.6h1.2v1.2h-1.2zM78.9 566.2h1.2v1.2h-1.2zM71.1 553.0h1.2v1.2h-1.2zM95.3 538.2h1.2v1.2h-1.2zM63.8 563.1h1.2v1.2h-1.2zM96.3 546.5h1.2v1.2h-1.2zM69.9 551.3h1.2v1.2h-1.2zM77.1 567.2h1.2v1.2h-1.2zM90.5 537.2h1.2v1.2h-1.2zM73.6 549.4h1.2v1.2h-1.2zM96.4 545.2h1.2v1.2h-1.2zM74.6 547.8h1.2v1.2h-1.2zM94.5 537.3h1.2v1.2h-1.2zM95.7 538.8h1.2v1.2h-1.2zM67.8 564.4h1.2v1.2h-1.2zM84.4 561.9h1.2v1.2h-1.2zM79.9 542.1h1.2v1.2h-1.2zM77.5 567.1h1.2v1.2h-1.2zM69.0 557.5h1.2v1.2h-1.2zM76.2 572.0h1.2v1.2h-1.2zM73.8 550.6h1.2v1.2h-1.2zM81.2 548.2h1.2v1.2h-1.2zM85.9 551.7h1.2v1.2h-1.2zM86.0 544.8h1.2v1.2h-1.2zM78.9 556.1h1.2v1.2h-1.2zM82.6 553.2h1.2v1.2h-1.2zM77.7 555.1h1.2v1.2h-1.2zM75.7 554.2h1.2v1.2h-1.2zM88.9 555.1h1.2v1.2h-1.2zM81.4 558.4h1.2v1.2h-1.2zM85.4 549.4h1.2v1.2h-1.2zM84.7 544.0h1.2v1.2h-1.2zM87.8 548.4h1.2v1.2h-1.2zM59.5 581.5h1.2v1.2h-1.2zM95.7 554.7h1.2v1.2h-1.2zM75.4 560.8h1.2v1.2h-1.2zM80.5 545.1h1.2v1.2h-1.2zM93.0 543.8h1.2v1.2h-1.2zM71.4 553.5h1.2v1.2h-1.2zM90.4 564.6h1.2v1.2h-1.2zM86.4 524.4h1.2v1.2h-1.2zM72.7 569.2h1.2v1.2h-1.2zM78.8 550.1h1.2v1.2h-1.2zM87.2 547.2h1.2v1.2h-1.2zM85.7 550.5h1.2v1.2h-1.2zM80.8 565.9h1.2v1.2h-1.2zM84.4 560.0h1.2v1.2h-1.2zM87.6 546.3h1.2v1.2h-1.2zM83.3 550.5h1.2v1.2h-1.2zM68.0 565.4h1.2v1.2h-1.2zM78.1 541.8h1.2v1.2h-1.2zM76.9 568.2h1.2v1.2h-1.2zM81.1 539.0h1.2v1.2h-1.2zM85.5 547.8h1.2v1.2h-1.2zM87.9 542.5h1.2v1.2h-1.2zM77.5 550.6h1.2v1.2h-1.2zM83.2 549.8h1.2v1.2h-1.2zM76.3 555.7h1.2v1.2h-1.2zM80.0 560.4h1.2v1.2h-1.2zM68.0 554.0h1.2v1.2h-1.2zM80.6 564.0h1.2v1.2h-1.2zM81.9 558.5h1.2v1.2h-1.2zM85.3 543.7h1.2v1.2h-1.2zM90.2 547.6h1.2v1.2h-1.2zM78.9 549.3h1.2v1.2h-1.2zM76.1 547.1h1.2v1.2h-1.2zM77.8 551.7h1.2v1.2h-1.2zM87.2 549.6h1.2v1.2h-1.2zM81.9 560.5h1.2v1.2h-1.2zM91.2 542.3h1.2v1.2h-1.2zM79.5 559.8h1.2v1.2h-1.2zM62.4 569.4h1.2v1.2h-1.2zM95.8 555.0h1.2v1.2h-1.2zM84.3 563.9h1.2v1.2h-1.2zM107.7 540.3h1.2v1.2h-1.2zM70.8 575.5h1.2v1.2h-1.2zM88.5 554.3h1.2v1.2h-1.2zM78.4 550.8h1.2v1.2h-1.2zM87.8 559.7h1.2v1.2h-1.2zM87.1 543.7h1.2v1.2h-1.2zM89.2 552.1h1.2v1.2h-1.2zM86.3 547.0h1.2v1.2h-1.2zM74.3 554.2h1.2v1.2h-1.2zM76.8 553.1h1.2v1.2h-1.2zM64.6 559.1h1.2v1.2h-1.2zM83.5 540.1h1.2v1.2h-1.2zM72.9 562.4h1.2v1.2h-1.2zM98.6 545.0h1.2v1.2h-1.2zM74.7 551.0h1.2v1.2h-1.2zM74.4 552.5h1.2v1.2h-1.2zM80.7 558.2h1.2v1.2h-1.2zM71.2 557.4h1.2v1.2h-1.2zM80.4 553.8h1.2v1.2h-1.2zM73.3 554.9h1.2v1.2h-1.2zM70.8 558.1h1.2v1.2h-1.2zM85.0 546.5h1.2v1.2h-1.2zM63.0 579.9h1.2v1.2h-1.2zM77.9 548.8h1.2v1.2h-1.2zM66.5 541.7h1.2v1.2h-1.2zM76.0 570.2h1.2v1.2h-1.2zM107.9 543.0h1.2v1.2h-1.2zM77.3 558.0h1.2v1.2h-1.2zM82.3 540.4h1.2v1.2h-1.2zM91.6 534.5h1.2v1.2h-1.2zM79.6 544.2h1.2v1.2h-1.2zM85.0 548.7h1.2v1.2h-1.2zM84.8 538.2h1.2v1.2h-1.2zM90.8 559.2h1.2v1.2h-1.2zM75.5 563.1h1.2v1.2h-1.2zM83.3 546.2h1.2v1.2h-1.2zM103.3 530.5h1.2v1.2h-1.2zM112.9 520.1h1.2v1.2h-1.2zM103.4 528.6h1.2v1.2h-1.2zM116.3 514.1h1.2v1.2h-1.2zM121.1 516.1h1.2v1.2h-1.2zM99.3 537.3h1.2v1.2h-1.2zM122.8 511.5h1.2v1.2h-1.2zM98.3 536.8h1.2v1.2h-1.2zM115.0 519.9h1.2v1.2h-1.2zM127.0 511.1h1.2v1.2h-1.2zM122.7 510.7h1.2v1.2h-1.2zM115.9 518.8h1.2v1.2h-1.2zM104.8 531.8h1.2v1.2h-1.2zM101.8 529.3h1.2v1.2h-1.2zM102.1 536.6h1.2v1.2h-1.2zM110.2 525.9h1.2v1.2h-1.2zM123.8 508.7h1.2v1.2h-1.2zM103.3 533.7h1.2v1.2h-1.2zM117.5 517.8h1.2v1.2h-1.2zM109.1 529.3h1.2v1.2h-1.2zM109.0 524.6h1.2v1.2h-1.2zM105.8 525.3h1.2v1.2h-1.2zM105.5 527.6h1.2v1.2h-1.2zM112.6 525.5h1.2v1.2h-1.2zM105.3 528.6h1.2v1.2h-1.2zM110.7 524.7h1.2v1.2h-1.2zM117.3 515.0h1.2v1.2h-1.2zM95.7 538.9h1.2v1.2h-1.2zM110.1 525.5h1.2v1.2h-1.2zM116.5 516.5h1.2v1.2h-1.2zM110.1 530.1h1.2v1.2h-1.2zM101.6 532.9h1.2v1.2h-1.2zM122.2 511.6h1.2v1.2h-1.2zM114.8 525.1h1.2v1.2h-1.2zM96.6 538.8h1.2v1.2h-1.2zM117.2 515.3h1.2v1.2h-1.2zM123.8 511.2h1.2v1.2h-1.2zM113.6 520.2h1.2v1.2h-1.2zM108.7 527.9h1.2v1.2h-1.2zM118.2 519.7h1.2v1.2h-1.2zM124.3 510.6h1.2v1.2h-1.2zM114.0 512.6h1.2v1.2h-1.2zM95.4 538.5h1.2v1.2h-1.2zM116.7 525.0h1.2v1.2h-1.2zM100.9 534.2h1.2v1.2h-1.2zM107.3 526.6h1.2v1.2h-1.2zM98.8 532.5h1.2v1.2h-1.2zM118.5 520.0h1.2v1.2h-1.2zM118.3 515.7h1.2v1.2h-1.2zM112.7 525.5h1.2v1.2h-1.2zM125.3 509.5h1.2v1.2h-1.2zM104.2 528.3h1.2v1.2h-1.2zM98.6 534.9h1.2v1.2h-1.2zM112.4 525.7h1.2v1.2h-1.2zM100.4 537.2h1.2v1.2h-1.2zM104.3 529.2h1.2v1.2h-1.2zM109.0 527.3h1.2v1.2h-1.2zM107.7 524.8h1.2v1.2h-1.2zM124.3 515.2h1.2v1.2h-1.2zM101.5 534.7h1.2v1.2h-1.2zM150.3 479.5h1.4v1.4h-1.4zM120.6 492.4h1.4v1.4h-1.4zM63.8 580.6h1.4v1.4h-1.4zM58.8 574.3h1.4v1.4h-1.4zM61.3 567.3h1.4v1.4h-1.4zM87.3 567.3h1.4v1.4h-1.4zM95.3 562.3h1.4v1.4h-1.4zM59.3 564.3h1.4v1.4h-1.4z" fill="#a9a9a9"/>
<line x1="41.15" y1="476.3" x2="41.15" y2="597.15" stroke="#333" stroke-width="1.3"/>
<line x1="40.5" y1="596.5" x2="162.10999999999999" y2="596.5" stroke="#333" stroke-width="1.3"/>
<line x1="34.949999999999996" y1="476.14" x2="41.15" y2="476.14" stroke="#333" stroke-width="1.2"/>
<text x="33.15" y="478.44" font-size="6.55" text-anchor="end" fill="#1a1a1a">15</text>
<line x1="161.51" y1="596.5" x2="161.51" y2="602.8" stroke="#333" stroke-width="1.2"/>
<text x="161.51" y="610.1" font-size="6.55" text-anchor="middle" fill="#1a1a1a">15</text>
<line x1="34.949999999999996" y1="496.20000000000005" x2="41.15" y2="496.20000000000005" stroke="#333" stroke-width="1.2"/>
<text x="33.15" y="498.50000000000006" font-size="6.55" text-anchor="end" fill="#1a1a1a">10</text>
<line x1="141.45" y1="596.5" x2="141.45" y2="602.8" stroke="#333" stroke-width="1.2"/>
<text x="141.45" y="610.1" font-size="6.55" text-anchor="middle" fill="#1a1a1a">10</text>
<line x1="34.949999999999996" y1="516.26" x2="41.15" y2="516.26" stroke="#333" stroke-width="1.2"/>
<text x="33.15" y="518.56" font-size="6.55" text-anchor="end" fill="#1a1a1a">5</text>
<line x1="121.38999999999999" y1="596.5" x2="121.38999999999999" y2="602.8" stroke="#333" stroke-width="1.2"/>
<text x="121.38999999999999" y="610.1" font-size="6.55" text-anchor="middle" fill="#1a1a1a">5</text>
<line x1="34.949999999999996" y1="536.32" x2="41.15" y2="536.32" stroke="#333" stroke-width="1.2"/>
<text x="33.15" y="538.62" font-size="6.55" text-anchor="end" fill="#1a1a1a">0</text>
<line x1="101.32999999999998" y1="596.5" x2="101.32999999999998" y2="602.8" stroke="#333" stroke-width="1.2"/>
<text x="101.32999999999998" y="610.1" font-size="6.55" text-anchor="middle" fill="#1a1a1a">0</text>
<line x1="34.949999999999996" y1="556.38" x2="41.15" y2="556.38" stroke="#333" stroke-width="1.2"/>
<text x="33.15" y="558.68" font-size="6.55" text-anchor="end" fill="#1a1a1a">−5</text>
<line x1="81.27" y1="596.5" x2="81.27" y2="602.8" stroke="#333" stroke-width="1.2"/>
<text x="81.86999999999999" y="610.1" font-size="6.55" text-anchor="middle" fill="#1a1a1a">−5</text>
<line x1="34.949999999999996" y1="576.44" x2="41.15" y2="576.44" stroke="#333" stroke-width="1.2"/>
<text x="33.15" y="578.74" font-size="6.55" text-anchor="end" fill="#1a1a1a">−10</text>
<line x1="61.209999999999994" y1="596.5" x2="61.209999999999994" y2="602.8" stroke="#333" stroke-width="1.2"/>
<text x="61.809999999999995" y="610.1" font-size="6.55" text-anchor="middle" fill="#1a1a1a">−10</text>
<line x1="34.949999999999996" y1="596.5" x2="41.15" y2="596.5" stroke="#333" stroke-width="1.2"/>
<text x="33.15" y="598.8" font-size="6.55" text-anchor="end" fill="#1a1a1a">−15</text>
<line x1="41.15" y1="596.5" x2="41.15" y2="602.8" stroke="#333" stroke-width="1.2"/>
<text x="41.75" y="610.1" font-size="6.55" text-anchor="middle" fill="#1a1a1a">−15</text>
<line x1="41.15" y1="596.5" x2="141.45" y2="496.20000000000005" stroke="#111" stroke-width="1.15" stroke-dasharray="3.6 0.7"/>
<text y="496.3" font-size="6.5" fill="#1a1a1a"><tspan x="64.8" font-style="italic">r</tspan><tspan x="70.6">=</tspan><tspan x="75.2">0.7573</tspan></text>
<text x="100.4" y="622.8" font-size="7.0" text-anchor="middle" fill="#1a1a1a">RWPE norm. miCLIP</text>
<text x="100.9" y="630.6" font-size="7" text-anchor="middle" fill="#1a1a1a">log<tspan font-size="5.2" dy="1.9">2</tspan><tspan dy="-1.9"> (uTPM/FPKM)</tspan></text>
<text x="7.1" y="539.5" font-size="7.7" text-anchor="middle" fill="#1a1a1a" transform="rotate(-90 7.1 539.5)">LNCaP norm. miCLIP</text>
<text x="16.6" y="539.5" font-size="7.7" text-anchor="middle" fill="#1a1a1a" transform="rotate(-90 16.6 539.5)">log<tspan font-size="5.6" dy="2.1">2</tspan><tspan dy="-2.1"> (uTPM/FPKM)</tspan></text>
</svg></body></html>
